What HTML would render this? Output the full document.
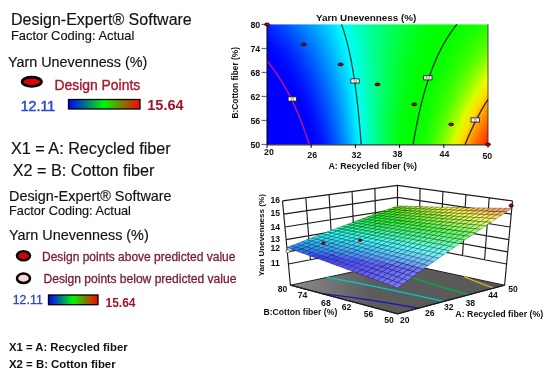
<!DOCTYPE html>
<html><head><meta charset="utf-8"><title>Design-Expert plots</title>
<style>html,body{margin:0;padding:0;background:#fff}svg{display:block}text{font-family:"Liberation Sans", sans-serif}</style></head>
<body><svg width="550" height="375" viewBox="0 0 550 375">
<rect width="550" height="375" fill="#fff"/>
<defs>
<linearGradient id="lg"><stop offset="0" stop-color="#0000ff"/><stop offset="0.5" stop-color="#00f800"/><stop offset="1" stop-color="#ff0000"/></linearGradient>
<linearGradient id="r0"><stop offset="0.000" stop-color="#0028ff"/><stop offset="0.031" stop-color="#0037ff"/><stop offset="0.107" stop-color="#0061ff"/><stop offset="0.183" stop-color="#0091ff"/><stop offset="0.259" stop-color="#00c6ff"/><stop offset="0.335" stop-color="#00ffff"/><stop offset="0.411" stop-color="#00ffc2"/><stop offset="0.487" stop-color="#00ff8b"/><stop offset="0.563" stop-color="#00ff5a"/><stop offset="0.639" stop-color="#00ff31"/><stop offset="0.715" stop-color="#00ff11"/><stop offset="0.791" stop-color="#00ff00"/><stop offset="0.867" stop-color="#04ff00"/><stop offset="0.943" stop-color="#13ff00"/><stop offset="1.000" stop-color="#27ff00"/></linearGradient>
<linearGradient id="r1"><stop offset="0.000" stop-color="#0023ff"/><stop offset="0.040" stop-color="#0037ff"/><stop offset="0.115" stop-color="#0061ff"/><stop offset="0.189" stop-color="#0091ff"/><stop offset="0.264" stop-color="#00c6ff"/><stop offset="0.338" stop-color="#00ffff"/><stop offset="0.413" stop-color="#00ffc2"/><stop offset="0.487" stop-color="#00ff8b"/><stop offset="0.562" stop-color="#00ff5a"/><stop offset="0.636" stop-color="#00ff31"/><stop offset="0.711" stop-color="#00ff11"/><stop offset="0.785" stop-color="#00ff00"/><stop offset="0.860" stop-color="#04ff00"/><stop offset="0.934" stop-color="#13ff00"/><stop offset="1.000" stop-color="#2bff00"/></linearGradient>
<linearGradient id="r2"><stop offset="0.000" stop-color="#001fff"/><stop offset="0.049" stop-color="#0037ff"/><stop offset="0.122" stop-color="#0061ff"/><stop offset="0.195" stop-color="#0091ff"/><stop offset="0.268" stop-color="#00c6ff"/><stop offset="0.341" stop-color="#00ffff"/><stop offset="0.414" stop-color="#00ffc2"/><stop offset="0.488" stop-color="#00ff8b"/><stop offset="0.561" stop-color="#00ff5a"/><stop offset="0.634" stop-color="#00ff31"/><stop offset="0.707" stop-color="#00ff11"/><stop offset="0.780" stop-color="#00ff00"/><stop offset="0.853" stop-color="#04ff00"/><stop offset="0.926" stop-color="#13ff00"/><stop offset="0.999" stop-color="#2fff00"/><stop offset="1.000" stop-color="#2fff00"/></linearGradient>
<linearGradient id="r3"><stop offset="0.000" stop-color="#001bff"/><stop offset="0.058" stop-color="#0037ff"/><stop offset="0.129" stop-color="#0061ff"/><stop offset="0.201" stop-color="#0091ff"/><stop offset="0.273" stop-color="#00c6ff"/><stop offset="0.344" stop-color="#00ffff"/><stop offset="0.416" stop-color="#00ffc2"/><stop offset="0.488" stop-color="#00ff8b"/><stop offset="0.559" stop-color="#00ff5a"/><stop offset="0.631" stop-color="#00ff31"/><stop offset="0.703" stop-color="#00ff11"/><stop offset="0.774" stop-color="#00ff00"/><stop offset="0.846" stop-color="#04ff00"/><stop offset="0.918" stop-color="#13ff00"/><stop offset="0.989" stop-color="#2fff00"/><stop offset="1.000" stop-color="#34ff00"/></linearGradient>
<linearGradient id="r4"><stop offset="0.000" stop-color="#0017ff"/><stop offset="0.066" stop-color="#0037ff"/><stop offset="0.136" stop-color="#0061ff"/><stop offset="0.207" stop-color="#0091ff"/><stop offset="0.277" stop-color="#00c6ff"/><stop offset="0.347" stop-color="#00ffff"/><stop offset="0.418" stop-color="#00ffc2"/><stop offset="0.488" stop-color="#00ff8b"/><stop offset="0.558" stop-color="#00ff5a"/><stop offset="0.629" stop-color="#00ff31"/><stop offset="0.699" stop-color="#00ff11"/><stop offset="0.769" stop-color="#00ff00"/><stop offset="0.840" stop-color="#04ff00"/><stop offset="0.910" stop-color="#13ff00"/><stop offset="0.980" stop-color="#2fff00"/><stop offset="1.000" stop-color="#39ff00"/></linearGradient>
<linearGradient id="r5"><stop offset="0.000" stop-color="#0013ff"/><stop offset="0.005" stop-color="#0015ff"/><stop offset="0.074" stop-color="#0037ff"/><stop offset="0.143" stop-color="#0061ff"/><stop offset="0.212" stop-color="#0091ff"/><stop offset="0.281" stop-color="#00c6ff"/><stop offset="0.350" stop-color="#00ffff"/><stop offset="0.419" stop-color="#00ffc2"/><stop offset="0.488" stop-color="#00ff8b"/><stop offset="0.557" stop-color="#00ff5a"/><stop offset="0.626" stop-color="#00ff31"/><stop offset="0.695" stop-color="#00ff11"/><stop offset="0.764" stop-color="#00ff00"/><stop offset="0.833" stop-color="#04ff00"/><stop offset="0.902" stop-color="#13ff00"/><stop offset="0.972" stop-color="#2fff00"/><stop offset="1.000" stop-color="#3eff00"/></linearGradient>
<linearGradient id="r6"><stop offset="0.000" stop-color="#000fff"/><stop offset="0.014" stop-color="#0015ff"/><stop offset="0.081" stop-color="#0037ff"/><stop offset="0.149" stop-color="#0061ff"/><stop offset="0.217" stop-color="#0091ff"/><stop offset="0.285" stop-color="#00c6ff"/><stop offset="0.353" stop-color="#00ffff"/><stop offset="0.421" stop-color="#00ffc2"/><stop offset="0.488" stop-color="#00ff8b"/><stop offset="0.556" stop-color="#00ff5a"/><stop offset="0.624" stop-color="#00ff31"/><stop offset="0.692" stop-color="#00ff11"/><stop offset="0.760" stop-color="#00ff00"/><stop offset="0.827" stop-color="#04ff00"/><stop offset="0.895" stop-color="#13ff00"/><stop offset="0.963" stop-color="#2fff00"/><stop offset="1.000" stop-color="#44ff00"/></linearGradient>
<linearGradient id="r7"><stop offset="0.000" stop-color="#000cff"/><stop offset="0.022" stop-color="#0015ff"/><stop offset="0.089" stop-color="#0037ff"/><stop offset="0.155" stop-color="#0061ff"/><stop offset="0.222" stop-color="#0091ff"/><stop offset="0.289" stop-color="#00c6ff"/><stop offset="0.355" stop-color="#00ffff"/><stop offset="0.422" stop-color="#00ffc2"/><stop offset="0.489" stop-color="#00ff8b"/><stop offset="0.555" stop-color="#00ff5a"/><stop offset="0.622" stop-color="#00ff31"/><stop offset="0.688" stop-color="#00ff11"/><stop offset="0.755" stop-color="#00ff00"/><stop offset="0.822" stop-color="#04ff00"/><stop offset="0.888" stop-color="#13ff00"/><stop offset="0.955" stop-color="#2fff00"/><stop offset="1.000" stop-color="#49ff00"/></linearGradient>
<linearGradient id="r8"><stop offset="0.000" stop-color="#0009ff"/><stop offset="0.030" stop-color="#0015ff"/><stop offset="0.096" stop-color="#0037ff"/><stop offset="0.161" stop-color="#0061ff"/><stop offset="0.227" stop-color="#0091ff"/><stop offset="0.292" stop-color="#00c6ff"/><stop offset="0.358" stop-color="#00ffff"/><stop offset="0.423" stop-color="#00ffc2"/><stop offset="0.489" stop-color="#00ff8b"/><stop offset="0.554" stop-color="#00ff5a"/><stop offset="0.620" stop-color="#00ff31"/><stop offset="0.685" stop-color="#00ff11"/><stop offset="0.751" stop-color="#00ff00"/><stop offset="0.816" stop-color="#04ff00"/><stop offset="0.882" stop-color="#13ff00"/><stop offset="0.947" stop-color="#2fff00"/><stop offset="1.000" stop-color="#4fff00"/></linearGradient>
<linearGradient id="r9"><stop offset="0.000" stop-color="#0006ff"/><stop offset="0.038" stop-color="#0015ff"/><stop offset="0.103" stop-color="#0037ff"/><stop offset="0.167" stop-color="#0061ff"/><stop offset="0.231" stop-color="#0091ff"/><stop offset="0.296" stop-color="#00c6ff"/><stop offset="0.360" stop-color="#00ffff"/><stop offset="0.425" stop-color="#00ffc2"/><stop offset="0.489" stop-color="#00ff8b"/><stop offset="0.553" stop-color="#00ff5a"/><stop offset="0.618" stop-color="#00ff31"/><stop offset="0.682" stop-color="#00ff11"/><stop offset="0.746" stop-color="#00ff00"/><stop offset="0.811" stop-color="#04ff00"/><stop offset="0.875" stop-color="#13ff00"/><stop offset="0.939" stop-color="#2fff00"/><stop offset="1.000" stop-color="#55ff00"/></linearGradient>
<linearGradient id="r10"><stop offset="0.000" stop-color="#0003ff"/><stop offset="0.046" stop-color="#0015ff"/><stop offset="0.109" stop-color="#0037ff"/><stop offset="0.173" stop-color="#0061ff"/><stop offset="0.236" stop-color="#0091ff"/><stop offset="0.299" stop-color="#00c6ff"/><stop offset="0.362" stop-color="#00ffff"/><stop offset="0.426" stop-color="#00ffc2"/><stop offset="0.489" stop-color="#00ff8b"/><stop offset="0.552" stop-color="#00ff5a"/><stop offset="0.616" stop-color="#00ff31"/><stop offset="0.679" stop-color="#00ff11"/><stop offset="0.742" stop-color="#00ff00"/><stop offset="0.805" stop-color="#04ff00"/><stop offset="0.869" stop-color="#13ff00"/><stop offset="0.932" stop-color="#2fff00"/><stop offset="0.995" stop-color="#58ff00"/><stop offset="1.000" stop-color="#5cff00"/></linearGradient>
<linearGradient id="r11"><stop offset="0.000" stop-color="#0001ff"/><stop offset="0.054" stop-color="#0015ff"/><stop offset="0.116" stop-color="#0037ff"/><stop offset="0.178" stop-color="#0061ff"/><stop offset="0.240" stop-color="#0091ff"/><stop offset="0.302" stop-color="#00c6ff"/><stop offset="0.365" stop-color="#00ffff"/><stop offset="0.427" stop-color="#00ffc2"/><stop offset="0.489" stop-color="#00ff8b"/><stop offset="0.551" stop-color="#00ff5a"/><stop offset="0.614" stop-color="#00ff31"/><stop offset="0.676" stop-color="#00ff11"/><stop offset="0.738" stop-color="#00ff00"/><stop offset="0.800" stop-color="#04ff00"/><stop offset="0.863" stop-color="#13ff00"/><stop offset="0.925" stop-color="#2fff00"/><stop offset="0.987" stop-color="#58ff00"/><stop offset="1.000" stop-color="#63ff00"/></linearGradient>
<linearGradient id="r12"><stop offset="0.000" stop-color="#0000ff"/><stop offset="0.061" stop-color="#0015ff"/><stop offset="0.122" stop-color="#0037ff"/><stop offset="0.183" stop-color="#0061ff"/><stop offset="0.244" stop-color="#0091ff"/><stop offset="0.306" stop-color="#00c6ff"/><stop offset="0.367" stop-color="#00ffff"/><stop offset="0.428" stop-color="#00ffc2"/><stop offset="0.489" stop-color="#00ff8b"/><stop offset="0.551" stop-color="#00ff5a"/><stop offset="0.612" stop-color="#00ff31"/><stop offset="0.673" stop-color="#00ff11"/><stop offset="0.734" stop-color="#00ff00"/><stop offset="0.795" stop-color="#04ff00"/><stop offset="0.857" stop-color="#13ff00"/><stop offset="0.918" stop-color="#2fff00"/><stop offset="0.979" stop-color="#58ff00"/><stop offset="1.000" stop-color="#6aff00"/></linearGradient>
<linearGradient id="r13"><stop offset="0.000" stop-color="#0000ff"/><stop offset="0.008" stop-color="#0000ff"/><stop offset="0.068" stop-color="#0015ff"/><stop offset="0.128" stop-color="#0037ff"/><stop offset="0.188" stop-color="#0061ff"/><stop offset="0.249" stop-color="#0091ff"/><stop offset="0.309" stop-color="#00c6ff"/><stop offset="0.369" stop-color="#00ffff"/><stop offset="0.429" stop-color="#00ffc2"/><stop offset="0.490" stop-color="#00ff8b"/><stop offset="0.550" stop-color="#00ff5a"/><stop offset="0.610" stop-color="#00ff31"/><stop offset="0.670" stop-color="#00ff11"/><stop offset="0.731" stop-color="#00ff00"/><stop offset="0.791" stop-color="#04ff00"/><stop offset="0.851" stop-color="#13ff00"/><stop offset="0.911" stop-color="#2fff00"/><stop offset="0.972" stop-color="#58ff00"/><stop offset="1.000" stop-color="#71ff00"/></linearGradient>
<linearGradient id="r14"><stop offset="0.000" stop-color="#0000ff"/><stop offset="0.015" stop-color="#0000ff"/><stop offset="0.075" stop-color="#0015ff"/><stop offset="0.134" stop-color="#0037ff"/><stop offset="0.193" stop-color="#0061ff"/><stop offset="0.252" stop-color="#0091ff"/><stop offset="0.312" stop-color="#00c6ff"/><stop offset="0.371" stop-color="#00ffff"/><stop offset="0.430" stop-color="#00ffc2"/><stop offset="0.490" stop-color="#00ff8b"/><stop offset="0.549" stop-color="#00ff5a"/><stop offset="0.608" stop-color="#00ff31"/><stop offset="0.668" stop-color="#00ff11"/><stop offset="0.727" stop-color="#00ff00"/><stop offset="0.786" stop-color="#04ff00"/><stop offset="0.845" stop-color="#13ff00"/><stop offset="0.905" stop-color="#2fff00"/><stop offset="0.964" stop-color="#58ff00"/><stop offset="1.000" stop-color="#78ff00"/></linearGradient>
<linearGradient id="r15"><stop offset="0.000" stop-color="#0000ff"/><stop offset="0.023" stop-color="#0000ff"/><stop offset="0.081" stop-color="#0015ff"/><stop offset="0.139" stop-color="#0037ff"/><stop offset="0.198" stop-color="#0061ff"/><stop offset="0.256" stop-color="#0091ff"/><stop offset="0.315" stop-color="#00c6ff"/><stop offset="0.373" stop-color="#00ffff"/><stop offset="0.431" stop-color="#00ffc2"/><stop offset="0.490" stop-color="#00ff8b"/><stop offset="0.548" stop-color="#00ff5a"/><stop offset="0.607" stop-color="#00ff31"/><stop offset="0.665" stop-color="#00ff11"/><stop offset="0.723" stop-color="#00ff00"/><stop offset="0.782" stop-color="#04ff00"/><stop offset="0.840" stop-color="#13ff00"/><stop offset="0.899" stop-color="#2fff00"/><stop offset="0.957" stop-color="#58ff00"/><stop offset="1.000" stop-color="#80ff00"/></linearGradient>
<linearGradient id="r16"><stop offset="0.000" stop-color="#0000ff"/><stop offset="0.030" stop-color="#0000ff"/><stop offset="0.087" stop-color="#0015ff"/><stop offset="0.145" stop-color="#0037ff"/><stop offset="0.202" stop-color="#0061ff"/><stop offset="0.260" stop-color="#0091ff"/><stop offset="0.317" stop-color="#00c6ff"/><stop offset="0.375" stop-color="#00ffff"/><stop offset="0.432" stop-color="#00ffc2"/><stop offset="0.490" stop-color="#00ff8b"/><stop offset="0.547" stop-color="#00ff5a"/><stop offset="0.605" stop-color="#00ff31"/><stop offset="0.662" stop-color="#00ff11"/><stop offset="0.720" stop-color="#00ff00"/><stop offset="0.777" stop-color="#04ff00"/><stop offset="0.835" stop-color="#13ff00"/><stop offset="0.892" stop-color="#2fff00"/><stop offset="0.950" stop-color="#58ff00"/><stop offset="1.000" stop-color="#88ff00"/></linearGradient>
<linearGradient id="r17"><stop offset="0.000" stop-color="#0000ff"/><stop offset="0.037" stop-color="#0000ff"/><stop offset="0.094" stop-color="#0015ff"/><stop offset="0.150" stop-color="#0037ff"/><stop offset="0.207" stop-color="#0061ff"/><stop offset="0.264" stop-color="#0091ff"/><stop offset="0.320" stop-color="#00c6ff"/><stop offset="0.377" stop-color="#00ffff"/><stop offset="0.433" stop-color="#00ffc2"/><stop offset="0.490" stop-color="#00ff8b"/><stop offset="0.547" stop-color="#00ff5a"/><stop offset="0.603" stop-color="#00ff31"/><stop offset="0.660" stop-color="#00ff11"/><stop offset="0.717" stop-color="#00ff00"/><stop offset="0.773" stop-color="#04ff00"/><stop offset="0.830" stop-color="#13ff00"/><stop offset="0.887" stop-color="#2fff00"/><stop offset="0.943" stop-color="#58ff00"/><stop offset="1.000" stop-color="#90ff00"/><stop offset="1.000" stop-color="#90ff00"/></linearGradient>
<linearGradient id="r18"><stop offset="0.000" stop-color="#0000ff"/><stop offset="0.044" stop-color="#0000ff"/><stop offset="0.100" stop-color="#0015ff"/><stop offset="0.155" stop-color="#0037ff"/><stop offset="0.211" stop-color="#0061ff"/><stop offset="0.267" stop-color="#0091ff"/><stop offset="0.323" stop-color="#00c6ff"/><stop offset="0.379" stop-color="#00ffff"/><stop offset="0.434" stop-color="#00ffc2"/><stop offset="0.490" stop-color="#00ff8b"/><stop offset="0.546" stop-color="#00ff5a"/><stop offset="0.602" stop-color="#00ff31"/><stop offset="0.658" stop-color="#00ff11"/><stop offset="0.713" stop-color="#00ff00"/><stop offset="0.769" stop-color="#04ff00"/><stop offset="0.825" stop-color="#13ff00"/><stop offset="0.881" stop-color="#2fff00"/><stop offset="0.937" stop-color="#58ff00"/><stop offset="0.992" stop-color="#90ff00"/><stop offset="1.000" stop-color="#99ff00"/></linearGradient>
<linearGradient id="r19"><stop offset="0.000" stop-color="#0000ff"/><stop offset="0.050" stop-color="#0000ff"/><stop offset="0.105" stop-color="#0015ff"/><stop offset="0.160" stop-color="#0037ff"/><stop offset="0.215" stop-color="#0061ff"/><stop offset="0.270" stop-color="#0091ff"/><stop offset="0.325" stop-color="#00c6ff"/><stop offset="0.380" stop-color="#00ffff"/><stop offset="0.435" stop-color="#00ffc2"/><stop offset="0.490" stop-color="#00ff8b"/><stop offset="0.545" stop-color="#00ff5a"/><stop offset="0.600" stop-color="#00ff31"/><stop offset="0.655" stop-color="#00ff11"/><stop offset="0.710" stop-color="#00ff00"/><stop offset="0.765" stop-color="#04ff00"/><stop offset="0.820" stop-color="#13ff00"/><stop offset="0.875" stop-color="#2fff00"/><stop offset="0.930" stop-color="#58ff00"/><stop offset="0.985" stop-color="#90ff00"/><stop offset="1.000" stop-color="#a2ff00"/></linearGradient>
<linearGradient id="r20"><stop offset="0.000" stop-color="#0000ff"/><stop offset="0.057" stop-color="#0000ff"/><stop offset="0.111" stop-color="#0015ff"/><stop offset="0.165" stop-color="#0037ff"/><stop offset="0.219" stop-color="#0061ff"/><stop offset="0.274" stop-color="#0091ff"/><stop offset="0.328" stop-color="#00c6ff"/><stop offset="0.382" stop-color="#00ffff"/><stop offset="0.436" stop-color="#00ffc2"/><stop offset="0.490" stop-color="#00ff8b"/><stop offset="0.545" stop-color="#00ff5a"/><stop offset="0.599" stop-color="#00ff31"/><stop offset="0.653" stop-color="#00ff11"/><stop offset="0.707" stop-color="#00ff00"/><stop offset="0.761" stop-color="#04ff00"/><stop offset="0.816" stop-color="#13ff00"/><stop offset="0.870" stop-color="#2fff00"/><stop offset="0.924" stop-color="#58ff00"/><stop offset="0.978" stop-color="#90ff00"/><stop offset="1.000" stop-color="#abff00"/></linearGradient>
<linearGradient id="r21"><stop offset="0.000" stop-color="#0000ff"/><stop offset="0.063" stop-color="#0000ff"/><stop offset="0.117" stop-color="#0015ff"/><stop offset="0.170" stop-color="#0037ff"/><stop offset="0.223" stop-color="#0061ff"/><stop offset="0.277" stop-color="#0091ff"/><stop offset="0.330" stop-color="#00c6ff"/><stop offset="0.384" stop-color="#00ffff"/><stop offset="0.437" stop-color="#00ffc2"/><stop offset="0.491" stop-color="#00ff8b"/><stop offset="0.544" stop-color="#00ff5a"/><stop offset="0.597" stop-color="#00ff31"/><stop offset="0.651" stop-color="#00ff11"/><stop offset="0.704" stop-color="#00ff00"/><stop offset="0.758" stop-color="#04ff00"/><stop offset="0.811" stop-color="#13ff00"/><stop offset="0.865" stop-color="#2fff00"/><stop offset="0.918" stop-color="#58ff00"/><stop offset="0.971" stop-color="#90ff00"/><stop offset="1.000" stop-color="#b4ff00"/></linearGradient>
<linearGradient id="r22"><stop offset="0.000" stop-color="#0000ff"/><stop offset="0.069" stop-color="#0000ff"/><stop offset="0.122" stop-color="#0015ff"/><stop offset="0.175" stop-color="#0037ff"/><stop offset="0.227" stop-color="#0061ff"/><stop offset="0.280" stop-color="#0091ff"/><stop offset="0.333" stop-color="#00c6ff"/><stop offset="0.385" stop-color="#00ffff"/><stop offset="0.438" stop-color="#00ffc2"/><stop offset="0.491" stop-color="#00ff8b"/><stop offset="0.543" stop-color="#00ff5a"/><stop offset="0.596" stop-color="#00ff31"/><stop offset="0.649" stop-color="#00ff11"/><stop offset="0.701" stop-color="#00ff00"/><stop offset="0.754" stop-color="#04ff00"/><stop offset="0.807" stop-color="#13ff00"/><stop offset="0.860" stop-color="#2fff00"/><stop offset="0.912" stop-color="#58ff00"/><stop offset="0.965" stop-color="#90ff00"/><stop offset="1.000" stop-color="#beff00"/></linearGradient>
<linearGradient id="r23"><stop offset="0.000" stop-color="#0000ff"/><stop offset="0.075" stop-color="#0000ff"/><stop offset="0.127" stop-color="#0015ff"/><stop offset="0.179" stop-color="#0037ff"/><stop offset="0.231" stop-color="#0061ff"/><stop offset="0.283" stop-color="#0091ff"/><stop offset="0.335" stop-color="#00c6ff"/><stop offset="0.387" stop-color="#00ffff"/><stop offset="0.439" stop-color="#00ffc2"/><stop offset="0.491" stop-color="#00ff8b"/><stop offset="0.543" stop-color="#00ff5a"/><stop offset="0.595" stop-color="#00ff31"/><stop offset="0.647" stop-color="#00ff11"/><stop offset="0.699" stop-color="#00ff00"/><stop offset="0.751" stop-color="#04ff00"/><stop offset="0.803" stop-color="#13ff00"/><stop offset="0.855" stop-color="#2fff00"/><stop offset="0.907" stop-color="#58ff00"/><stop offset="0.958" stop-color="#90ff00"/><stop offset="1.000" stop-color="#c8ff00"/></linearGradient>
<linearGradient id="r24"><stop offset="0.000" stop-color="#0000ff"/><stop offset="0.081" stop-color="#0000ff"/><stop offset="0.132" stop-color="#0015ff"/><stop offset="0.183" stop-color="#0037ff"/><stop offset="0.235" stop-color="#0061ff"/><stop offset="0.286" stop-color="#0091ff"/><stop offset="0.337" stop-color="#00c6ff"/><stop offset="0.388" stop-color="#00ffff"/><stop offset="0.440" stop-color="#00ffc2"/><stop offset="0.491" stop-color="#00ff8b"/><stop offset="0.542" stop-color="#00ff5a"/><stop offset="0.593" stop-color="#00ff31"/><stop offset="0.645" stop-color="#00ff11"/><stop offset="0.696" stop-color="#00ff00"/><stop offset="0.747" stop-color="#04ff00"/><stop offset="0.798" stop-color="#13ff00"/><stop offset="0.850" stop-color="#2fff00"/><stop offset="0.901" stop-color="#58ff00"/><stop offset="0.952" stop-color="#90ff00"/><stop offset="1.000" stop-color="#d2ff00"/></linearGradient>
<linearGradient id="r25"><stop offset="0.000" stop-color="#0000ff"/><stop offset="0.086" stop-color="#0000ff"/><stop offset="0.137" stop-color="#0015ff"/><stop offset="0.188" stop-color="#0037ff"/><stop offset="0.238" stop-color="#0061ff"/><stop offset="0.289" stop-color="#0091ff"/><stop offset="0.339" stop-color="#00c6ff"/><stop offset="0.390" stop-color="#00ffff"/><stop offset="0.440" stop-color="#00ffc2"/><stop offset="0.491" stop-color="#00ff8b"/><stop offset="0.542" stop-color="#00ff5a"/><stop offset="0.592" stop-color="#00ff31"/><stop offset="0.643" stop-color="#00ff11"/><stop offset="0.693" stop-color="#00ff00"/><stop offset="0.744" stop-color="#04ff00"/><stop offset="0.794" stop-color="#13ff00"/><stop offset="0.845" stop-color="#2fff00"/><stop offset="0.896" stop-color="#58ff00"/><stop offset="0.946" stop-color="#90ff00"/><stop offset="0.997" stop-color="#d7ff00"/><stop offset="1.000" stop-color="#dcff00"/></linearGradient>
<linearGradient id="r26"><stop offset="0.000" stop-color="#0000ff"/><stop offset="0.092" stop-color="#0000ff"/><stop offset="0.142" stop-color="#0015ff"/><stop offset="0.192" stop-color="#0037ff"/><stop offset="0.242" stop-color="#0061ff"/><stop offset="0.291" stop-color="#0091ff"/><stop offset="0.341" stop-color="#00c6ff"/><stop offset="0.391" stop-color="#00ffff"/><stop offset="0.441" stop-color="#00ffc2"/><stop offset="0.491" stop-color="#00ff8b"/><stop offset="0.541" stop-color="#00ff5a"/><stop offset="0.591" stop-color="#00ff31"/><stop offset="0.641" stop-color="#00ff11"/><stop offset="0.691" stop-color="#00ff00"/><stop offset="0.741" stop-color="#04ff00"/><stop offset="0.791" stop-color="#13ff00"/><stop offset="0.840" stop-color="#2fff00"/><stop offset="0.890" stop-color="#58ff00"/><stop offset="0.940" stop-color="#90ff00"/><stop offset="0.990" stop-color="#d7ff00"/><stop offset="1.000" stop-color="#e7ff00"/></linearGradient>
<linearGradient id="r27"><stop offset="0.000" stop-color="#0000ff"/><stop offset="0.097" stop-color="#0000ff"/><stop offset="0.146" stop-color="#0015ff"/><stop offset="0.196" stop-color="#0037ff"/><stop offset="0.245" stop-color="#0061ff"/><stop offset="0.294" stop-color="#0091ff"/><stop offset="0.343" stop-color="#00c6ff"/><stop offset="0.393" stop-color="#00ffff"/><stop offset="0.442" stop-color="#00ffc2"/><stop offset="0.491" stop-color="#00ff8b"/><stop offset="0.540" stop-color="#00ff5a"/><stop offset="0.590" stop-color="#00ff31"/><stop offset="0.639" stop-color="#00ff11"/><stop offset="0.688" stop-color="#00ff00"/><stop offset="0.737" stop-color="#04ff00"/><stop offset="0.787" stop-color="#13ff00"/><stop offset="0.836" stop-color="#2fff00"/><stop offset="0.885" stop-color="#58ff00"/><stop offset="0.935" stop-color="#90ff00"/><stop offset="0.984" stop-color="#d7ff00"/><stop offset="1.000" stop-color="#f2ff00"/></linearGradient>
<linearGradient id="r28"><stop offset="0.000" stop-color="#0000ff"/><stop offset="0.102" stop-color="#0000ff"/><stop offset="0.151" stop-color="#0015ff"/><stop offset="0.200" stop-color="#0037ff"/><stop offset="0.248" stop-color="#0061ff"/><stop offset="0.297" stop-color="#0091ff"/><stop offset="0.345" stop-color="#00c6ff"/><stop offset="0.394" stop-color="#00ffff"/><stop offset="0.443" stop-color="#00ffc2"/><stop offset="0.491" stop-color="#00ff8b"/><stop offset="0.540" stop-color="#00ff5a"/><stop offset="0.589" stop-color="#00ff31"/><stop offset="0.637" stop-color="#00ff11"/><stop offset="0.686" stop-color="#00ff00"/><stop offset="0.734" stop-color="#04ff00"/><stop offset="0.783" stop-color="#13ff00"/><stop offset="0.832" stop-color="#2fff00"/><stop offset="0.880" stop-color="#58ff00"/><stop offset="0.929" stop-color="#90ff00"/><stop offset="0.978" stop-color="#d7ff00"/><stop offset="1.000" stop-color="#fdff00"/></linearGradient>
<linearGradient id="r29"><stop offset="0.000" stop-color="#0000ff"/><stop offset="0.107" stop-color="#0000ff"/><stop offset="0.155" stop-color="#0015ff"/><stop offset="0.203" stop-color="#0037ff"/><stop offset="0.251" stop-color="#0061ff"/><stop offset="0.299" stop-color="#0091ff"/><stop offset="0.347" stop-color="#00c6ff"/><stop offset="0.395" stop-color="#00ffff"/><stop offset="0.443" stop-color="#00ffc2"/><stop offset="0.491" stop-color="#00ff8b"/><stop offset="0.539" stop-color="#00ff5a"/><stop offset="0.587" stop-color="#00ff31"/><stop offset="0.635" stop-color="#00ff11"/><stop offset="0.683" stop-color="#00ff00"/><stop offset="0.731" stop-color="#04ff00"/><stop offset="0.779" stop-color="#13ff00"/><stop offset="0.827" stop-color="#2fff00"/><stop offset="0.875" stop-color="#58ff00"/><stop offset="0.923" stop-color="#90ff00"/><stop offset="0.971" stop-color="#d7ff00"/><stop offset="1.000" stop-color="#fff800"/></linearGradient>
<linearGradient id="r30"><stop offset="0.000" stop-color="#0000ff"/><stop offset="0.112" stop-color="#0000ff"/><stop offset="0.160" stop-color="#0015ff"/><stop offset="0.207" stop-color="#0037ff"/><stop offset="0.254" stop-color="#0061ff"/><stop offset="0.302" stop-color="#0091ff"/><stop offset="0.349" stop-color="#00c6ff"/><stop offset="0.397" stop-color="#00ffff"/><stop offset="0.444" stop-color="#00ffc2"/><stop offset="0.492" stop-color="#00ff8b"/><stop offset="0.539" stop-color="#00ff5a"/><stop offset="0.586" stop-color="#00ff31"/><stop offset="0.634" stop-color="#00ff11"/><stop offset="0.681" stop-color="#00ff00"/><stop offset="0.729" stop-color="#04ff00"/><stop offset="0.776" stop-color="#13ff00"/><stop offset="0.823" stop-color="#2fff00"/><stop offset="0.871" stop-color="#58ff00"/><stop offset="0.918" stop-color="#90ff00"/><stop offset="0.966" stop-color="#d7ff00"/><stop offset="1.000" stop-color="#ffef00"/></linearGradient>
<linearGradient id="r31"><stop offset="0.000" stop-color="#0000ff"/><stop offset="0.117" stop-color="#0000ff"/><stop offset="0.164" stop-color="#0015ff"/><stop offset="0.211" stop-color="#0037ff"/><stop offset="0.258" stop-color="#0061ff"/><stop offset="0.304" stop-color="#0091ff"/><stop offset="0.351" stop-color="#00c6ff"/><stop offset="0.398" stop-color="#00ffff"/><stop offset="0.445" stop-color="#00ffc2"/><stop offset="0.492" stop-color="#00ff8b"/><stop offset="0.538" stop-color="#00ff5a"/><stop offset="0.585" stop-color="#00ff31"/><stop offset="0.632" stop-color="#00ff11"/><stop offset="0.679" stop-color="#00ff00"/><stop offset="0.726" stop-color="#04ff00"/><stop offset="0.772" stop-color="#13ff00"/><stop offset="0.819" stop-color="#2fff00"/><stop offset="0.866" stop-color="#58ff00"/><stop offset="0.913" stop-color="#90ff00"/><stop offset="0.960" stop-color="#d7ff00"/><stop offset="1.000" stop-color="#ffe700"/></linearGradient>
<linearGradient id="r32"><stop offset="0.000" stop-color="#0000ff"/><stop offset="0.122" stop-color="#0000ff"/><stop offset="0.168" stop-color="#0015ff"/><stop offset="0.214" stop-color="#0037ff"/><stop offset="0.260" stop-color="#0061ff"/><stop offset="0.307" stop-color="#0091ff"/><stop offset="0.353" stop-color="#00c6ff"/><stop offset="0.399" stop-color="#00ffff"/><stop offset="0.445" stop-color="#00ffc2"/><stop offset="0.492" stop-color="#00ff8b"/><stop offset="0.538" stop-color="#00ff5a"/><stop offset="0.584" stop-color="#00ff31"/><stop offset="0.630" stop-color="#00ff11"/><stop offset="0.677" stop-color="#00ff00"/><stop offset="0.723" stop-color="#04ff00"/><stop offset="0.769" stop-color="#13ff00"/><stop offset="0.815" stop-color="#2fff00"/><stop offset="0.862" stop-color="#58ff00"/><stop offset="0.908" stop-color="#90ff00"/><stop offset="0.954" stop-color="#d7ff00"/><stop offset="1.000" stop-color="#ffde00"/></linearGradient>
<linearGradient id="r33"><stop offset="0.000" stop-color="#0000ff"/><stop offset="0.126" stop-color="#0000ff"/><stop offset="0.172" stop-color="#0015ff"/><stop offset="0.218" stop-color="#0037ff"/><stop offset="0.263" stop-color="#0061ff"/><stop offset="0.309" stop-color="#0091ff"/><stop offset="0.355" stop-color="#00c6ff"/><stop offset="0.400" stop-color="#00ffff"/><stop offset="0.446" stop-color="#00ffc2"/><stop offset="0.492" stop-color="#00ff8b"/><stop offset="0.537" stop-color="#00ff5a"/><stop offset="0.583" stop-color="#00ff31"/><stop offset="0.629" stop-color="#00ff11"/><stop offset="0.675" stop-color="#00ff00"/><stop offset="0.720" stop-color="#04ff00"/><stop offset="0.766" stop-color="#13ff00"/><stop offset="0.812" stop-color="#2fff00"/><stop offset="0.857" stop-color="#58ff00"/><stop offset="0.903" stop-color="#90ff00"/><stop offset="0.949" stop-color="#d7ff00"/><stop offset="0.994" stop-color="#ffde00"/><stop offset="1.000" stop-color="#ffd600"/></linearGradient>
<linearGradient id="r34"><stop offset="0.000" stop-color="#0000ff"/><stop offset="0.131" stop-color="#0000ff"/><stop offset="0.176" stop-color="#0015ff"/><stop offset="0.221" stop-color="#0037ff"/><stop offset="0.266" stop-color="#0061ff"/><stop offset="0.311" stop-color="#0091ff"/><stop offset="0.356" stop-color="#00c6ff"/><stop offset="0.402" stop-color="#00ffff"/><stop offset="0.447" stop-color="#00ffc2"/><stop offset="0.492" stop-color="#00ff8b"/><stop offset="0.537" stop-color="#00ff5a"/><stop offset="0.582" stop-color="#00ff31"/><stop offset="0.627" stop-color="#00ff11"/><stop offset="0.672" stop-color="#00ff00"/><stop offset="0.718" stop-color="#04ff00"/><stop offset="0.763" stop-color="#13ff00"/><stop offset="0.808" stop-color="#2fff00"/><stop offset="0.853" stop-color="#58ff00"/><stop offset="0.898" stop-color="#90ff00"/><stop offset="0.943" stop-color="#d7ff00"/><stop offset="0.988" stop-color="#ffde00"/><stop offset="1.000" stop-color="#ffce00"/></linearGradient>
<linearGradient id="r35"><stop offset="0.000" stop-color="#0000ff"/><stop offset="0.135" stop-color="#0000ff"/><stop offset="0.180" stop-color="#0015ff"/><stop offset="0.224" stop-color="#0037ff"/><stop offset="0.269" stop-color="#0061ff"/><stop offset="0.314" stop-color="#0091ff"/><stop offset="0.358" stop-color="#00c6ff"/><stop offset="0.403" stop-color="#00ffff"/><stop offset="0.447" stop-color="#00ffc2"/><stop offset="0.492" stop-color="#00ff8b"/><stop offset="0.537" stop-color="#00ff5a"/><stop offset="0.581" stop-color="#00ff31"/><stop offset="0.626" stop-color="#00ff11"/><stop offset="0.670" stop-color="#00ff00"/><stop offset="0.715" stop-color="#04ff00"/><stop offset="0.760" stop-color="#13ff00"/><stop offset="0.804" stop-color="#2fff00"/><stop offset="0.849" stop-color="#58ff00"/><stop offset="0.893" stop-color="#90ff00"/><stop offset="0.938" stop-color="#d7ff00"/><stop offset="0.983" stop-color="#ffde00"/><stop offset="1.000" stop-color="#ffc600"/></linearGradient>
<linearGradient id="r36"><stop offset="0.000" stop-color="#0000ff"/><stop offset="0.139" stop-color="#0000ff"/><stop offset="0.183" stop-color="#0015ff"/><stop offset="0.228" stop-color="#0037ff"/><stop offset="0.272" stop-color="#0061ff"/><stop offset="0.316" stop-color="#0091ff"/><stop offset="0.360" stop-color="#00c6ff"/><stop offset="0.404" stop-color="#00ffff"/><stop offset="0.448" stop-color="#00ffc2"/><stop offset="0.492" stop-color="#00ff8b"/><stop offset="0.536" stop-color="#00ff5a"/><stop offset="0.580" stop-color="#00ff31"/><stop offset="0.624" stop-color="#00ff11"/><stop offset="0.668" stop-color="#00ff00"/><stop offset="0.712" stop-color="#04ff00"/><stop offset="0.757" stop-color="#13ff00"/><stop offset="0.801" stop-color="#2fff00"/><stop offset="0.845" stop-color="#58ff00"/><stop offset="0.889" stop-color="#90ff00"/><stop offset="0.933" stop-color="#d7ff00"/><stop offset="0.977" stop-color="#ffde00"/><stop offset="1.000" stop-color="#ffbe00"/></linearGradient>
<linearGradient id="r37"><stop offset="0.000" stop-color="#0000ff"/><stop offset="0.143" stop-color="#0000ff"/><stop offset="0.187" stop-color="#0015ff"/><stop offset="0.231" stop-color="#0037ff"/><stop offset="0.274" stop-color="#0061ff"/><stop offset="0.318" stop-color="#0091ff"/><stop offset="0.361" stop-color="#00c6ff"/><stop offset="0.405" stop-color="#00ffff"/><stop offset="0.449" stop-color="#00ffc2"/><stop offset="0.492" stop-color="#00ff8b"/><stop offset="0.536" stop-color="#00ff5a"/><stop offset="0.579" stop-color="#00ff31"/><stop offset="0.623" stop-color="#00ff11"/><stop offset="0.666" stop-color="#00ff00"/><stop offset="0.710" stop-color="#04ff00"/><stop offset="0.754" stop-color="#13ff00"/><stop offset="0.797" stop-color="#2fff00"/><stop offset="0.841" stop-color="#58ff00"/><stop offset="0.884" stop-color="#90ff00"/><stop offset="0.928" stop-color="#d7ff00"/><stop offset="0.971" stop-color="#ffde00"/><stop offset="1.000" stop-color="#ffb600"/></linearGradient>
<linearGradient id="r38"><stop offset="0.000" stop-color="#0000ff"/><stop offset="0.148" stop-color="#0000ff"/><stop offset="0.191" stop-color="#0015ff"/><stop offset="0.234" stop-color="#0037ff"/><stop offset="0.277" stop-color="#0061ff"/><stop offset="0.320" stop-color="#0091ff"/><stop offset="0.363" stop-color="#00c6ff"/><stop offset="0.406" stop-color="#00ffff"/><stop offset="0.449" stop-color="#00ffc2"/><stop offset="0.492" stop-color="#00ff8b"/><stop offset="0.535" stop-color="#00ff5a"/><stop offset="0.578" stop-color="#00ff31"/><stop offset="0.621" stop-color="#00ff11"/><stop offset="0.664" stop-color="#00ff00"/><stop offset="0.708" stop-color="#04ff00"/><stop offset="0.751" stop-color="#13ff00"/><stop offset="0.794" stop-color="#2fff00"/><stop offset="0.837" stop-color="#58ff00"/><stop offset="0.880" stop-color="#90ff00"/><stop offset="0.923" stop-color="#d7ff00"/><stop offset="0.966" stop-color="#ffde00"/><stop offset="1.000" stop-color="#ffaf00"/></linearGradient>
<linearGradient id="r39"><stop offset="0.000" stop-color="#0000ff"/><stop offset="0.152" stop-color="#0000ff"/><stop offset="0.194" stop-color="#0015ff"/><stop offset="0.237" stop-color="#0037ff"/><stop offset="0.279" stop-color="#0061ff"/><stop offset="0.322" stop-color="#0091ff"/><stop offset="0.364" stop-color="#00c6ff"/><stop offset="0.407" stop-color="#00ffff"/><stop offset="0.450" stop-color="#00ffc2"/><stop offset="0.492" stop-color="#00ff8b"/><stop offset="0.535" stop-color="#00ff5a"/><stop offset="0.577" stop-color="#00ff31"/><stop offset="0.620" stop-color="#00ff11"/><stop offset="0.663" stop-color="#00ff00"/><stop offset="0.705" stop-color="#04ff00"/><stop offset="0.748" stop-color="#13ff00"/><stop offset="0.790" stop-color="#2fff00"/><stop offset="0.833" stop-color="#58ff00"/><stop offset="0.876" stop-color="#90ff00"/><stop offset="0.918" stop-color="#d7ff00"/><stop offset="0.961" stop-color="#ffde00"/><stop offset="1.000" stop-color="#ffa700"/></linearGradient>
<linearGradient id="r40"><stop offset="0.000" stop-color="#0000ff"/><stop offset="0.155" stop-color="#0000ff"/><stop offset="0.197" stop-color="#0015ff"/><stop offset="0.240" stop-color="#0037ff"/><stop offset="0.282" stop-color="#0061ff"/><stop offset="0.324" stop-color="#0091ff"/><stop offset="0.366" stop-color="#00c6ff"/><stop offset="0.408" stop-color="#00ffff"/><stop offset="0.450" stop-color="#00ffc2"/><stop offset="0.492" stop-color="#00ff8b"/><stop offset="0.534" stop-color="#00ff5a"/><stop offset="0.577" stop-color="#00ff31"/><stop offset="0.619" stop-color="#00ff11"/><stop offset="0.661" stop-color="#00ff00"/><stop offset="0.703" stop-color="#04ff00"/><stop offset="0.745" stop-color="#13ff00"/><stop offset="0.787" stop-color="#2fff00"/><stop offset="0.829" stop-color="#58ff00"/><stop offset="0.871" stop-color="#90ff00"/><stop offset="0.914" stop-color="#d7ff00"/><stop offset="0.956" stop-color="#ffde00"/><stop offset="0.998" stop-color="#ffa200"/><stop offset="1.000" stop-color="#ff9f00"/></linearGradient>
<linearGradient id="r41"><stop offset="0.000" stop-color="#0000ff"/><stop offset="0.159" stop-color="#0000ff"/><stop offset="0.201" stop-color="#0015ff"/><stop offset="0.242" stop-color="#0037ff"/><stop offset="0.284" stop-color="#0061ff"/><stop offset="0.326" stop-color="#0091ff"/><stop offset="0.367" stop-color="#00c6ff"/><stop offset="0.409" stop-color="#00ffff"/><stop offset="0.451" stop-color="#00ffc2"/><stop offset="0.492" stop-color="#00ff8b"/><stop offset="0.534" stop-color="#00ff5a"/><stop offset="0.576" stop-color="#00ff31"/><stop offset="0.617" stop-color="#00ff11"/><stop offset="0.659" stop-color="#00ff00"/><stop offset="0.701" stop-color="#04ff00"/><stop offset="0.742" stop-color="#13ff00"/><stop offset="0.784" stop-color="#2fff00"/><stop offset="0.826" stop-color="#58ff00"/><stop offset="0.867" stop-color="#90ff00"/><stop offset="0.909" stop-color="#d7ff00"/><stop offset="0.951" stop-color="#ffde00"/><stop offset="0.992" stop-color="#ffa200"/><stop offset="1.000" stop-color="#ff9800"/></linearGradient>
<linearGradient id="r42"><stop offset="0.000" stop-color="#0000ff"/><stop offset="0.163" stop-color="#0000ff"/><stop offset="0.204" stop-color="#0015ff"/><stop offset="0.245" stop-color="#0037ff"/><stop offset="0.286" stop-color="#0061ff"/><stop offset="0.328" stop-color="#0091ff"/><stop offset="0.369" stop-color="#00c6ff"/><stop offset="0.410" stop-color="#00ffff"/><stop offset="0.451" stop-color="#00ffc2"/><stop offset="0.492" stop-color="#00ff8b"/><stop offset="0.534" stop-color="#00ff5a"/><stop offset="0.575" stop-color="#00ff31"/><stop offset="0.616" stop-color="#00ff11"/><stop offset="0.657" stop-color="#00ff00"/><stop offset="0.698" stop-color="#04ff00"/><stop offset="0.740" stop-color="#13ff00"/><stop offset="0.781" stop-color="#2fff00"/><stop offset="0.822" stop-color="#58ff00"/><stop offset="0.863" stop-color="#90ff00"/><stop offset="0.904" stop-color="#d7ff00"/><stop offset="0.946" stop-color="#ffde00"/><stop offset="0.987" stop-color="#ffa200"/><stop offset="1.000" stop-color="#ff9100"/></linearGradient>
<linearGradient id="r43"><stop offset="0.000" stop-color="#0000ff"/><stop offset="0.166" stop-color="#0000ff"/><stop offset="0.207" stop-color="#0015ff"/><stop offset="0.248" stop-color="#0037ff"/><stop offset="0.289" stop-color="#0061ff"/><stop offset="0.330" stop-color="#0091ff"/><stop offset="0.370" stop-color="#00c6ff"/><stop offset="0.411" stop-color="#00ffff"/><stop offset="0.452" stop-color="#00ffc2"/><stop offset="0.493" stop-color="#00ff8b"/><stop offset="0.533" stop-color="#00ff5a"/><stop offset="0.574" stop-color="#00ff31"/><stop offset="0.615" stop-color="#00ff11"/><stop offset="0.656" stop-color="#00ff00"/><stop offset="0.696" stop-color="#04ff00"/><stop offset="0.737" stop-color="#13ff00"/><stop offset="0.778" stop-color="#2fff00"/><stop offset="0.819" stop-color="#58ff00"/><stop offset="0.859" stop-color="#90ff00"/><stop offset="0.900" stop-color="#d7ff00"/><stop offset="0.941" stop-color="#ffde00"/><stop offset="0.982" stop-color="#ffa200"/><stop offset="1.000" stop-color="#ff8900"/></linearGradient>
<linearGradient id="r44"><stop offset="0.000" stop-color="#0000ff"/><stop offset="0.170" stop-color="#0000ff"/><stop offset="0.210" stop-color="#0015ff"/><stop offset="0.251" stop-color="#0037ff"/><stop offset="0.291" stop-color="#0061ff"/><stop offset="0.331" stop-color="#0091ff"/><stop offset="0.372" stop-color="#00c6ff"/><stop offset="0.412" stop-color="#00ffff"/><stop offset="0.452" stop-color="#00ffc2"/><stop offset="0.493" stop-color="#00ff8b"/><stop offset="0.533" stop-color="#00ff5a"/><stop offset="0.573" stop-color="#00ff31"/><stop offset="0.614" stop-color="#00ff11"/><stop offset="0.654" stop-color="#00ff00"/><stop offset="0.694" stop-color="#04ff00"/><stop offset="0.735" stop-color="#13ff00"/><stop offset="0.775" stop-color="#2fff00"/><stop offset="0.815" stop-color="#58ff00"/><stop offset="0.856" stop-color="#90ff00"/><stop offset="0.896" stop-color="#d7ff00"/><stop offset="0.936" stop-color="#ffde00"/><stop offset="0.976" stop-color="#ffa200"/><stop offset="1.000" stop-color="#ff8200"/></linearGradient>
<linearGradient id="r45"><stop offset="0.000" stop-color="#0000ff"/><stop offset="0.174" stop-color="#0000ff"/><stop offset="0.213" stop-color="#0015ff"/><stop offset="0.253" stop-color="#0037ff"/><stop offset="0.293" stop-color="#0061ff"/><stop offset="0.333" stop-color="#0091ff"/><stop offset="0.373" stop-color="#00c6ff"/><stop offset="0.413" stop-color="#00ffff"/><stop offset="0.453" stop-color="#00ffc2"/><stop offset="0.493" stop-color="#00ff8b"/><stop offset="0.533" stop-color="#00ff5a"/><stop offset="0.572" stop-color="#00ff31"/><stop offset="0.612" stop-color="#00ff11"/><stop offset="0.652" stop-color="#00ff00"/><stop offset="0.692" stop-color="#04ff00"/><stop offset="0.732" stop-color="#13ff00"/><stop offset="0.772" stop-color="#2fff00"/><stop offset="0.812" stop-color="#58ff00"/><stop offset="0.852" stop-color="#90ff00"/><stop offset="0.892" stop-color="#d7ff00"/><stop offset="0.932" stop-color="#ffde00"/><stop offset="0.971" stop-color="#ffa200"/><stop offset="1.000" stop-color="#ff7b00"/></linearGradient>
<linearGradient id="r46"><stop offset="0.000" stop-color="#0000ff"/><stop offset="0.177" stop-color="#0000ff"/><stop offset="0.216" stop-color="#0015ff"/><stop offset="0.256" stop-color="#0037ff"/><stop offset="0.295" stop-color="#0061ff"/><stop offset="0.335" stop-color="#0091ff"/><stop offset="0.374" stop-color="#00c6ff"/><stop offset="0.414" stop-color="#00ffff"/><stop offset="0.453" stop-color="#00ffc2"/><stop offset="0.493" stop-color="#00ff8b"/><stop offset="0.532" stop-color="#00ff5a"/><stop offset="0.572" stop-color="#00ff31"/><stop offset="0.611" stop-color="#00ff11"/><stop offset="0.651" stop-color="#00ff00"/><stop offset="0.690" stop-color="#04ff00"/><stop offset="0.730" stop-color="#13ff00"/><stop offset="0.769" stop-color="#2fff00"/><stop offset="0.809" stop-color="#58ff00"/><stop offset="0.848" stop-color="#90ff00"/><stop offset="0.888" stop-color="#d7ff00"/><stop offset="0.927" stop-color="#ffde00"/><stop offset="0.966" stop-color="#ffa200"/><stop offset="1.000" stop-color="#ff7400"/></linearGradient>
<linearGradient id="r47"><stop offset="0.000" stop-color="#0000ff"/><stop offset="0.180" stop-color="#0000ff"/><stop offset="0.219" stop-color="#0015ff"/><stop offset="0.258" stop-color="#0037ff"/><stop offset="0.297" stop-color="#0061ff"/><stop offset="0.337" stop-color="#0091ff"/><stop offset="0.376" stop-color="#00c6ff"/><stop offset="0.415" stop-color="#00ffff"/><stop offset="0.454" stop-color="#00ffc2"/><stop offset="0.493" stop-color="#00ff8b"/><stop offset="0.532" stop-color="#00ff5a"/><stop offset="0.571" stop-color="#00ff31"/><stop offset="0.610" stop-color="#00ff11"/><stop offset="0.649" stop-color="#00ff00"/><stop offset="0.688" stop-color="#04ff00"/><stop offset="0.727" stop-color="#13ff00"/><stop offset="0.766" stop-color="#2fff00"/><stop offset="0.805" stop-color="#58ff00"/><stop offset="0.844" stop-color="#90ff00"/><stop offset="0.884" stop-color="#d7ff00"/><stop offset="0.923" stop-color="#ffde00"/><stop offset="0.962" stop-color="#ffa200"/><stop offset="1.000" stop-color="#ff6e00"/></linearGradient>
<linearGradient id="r48"><stop offset="0.000" stop-color="#0000ff"/><stop offset="0.183" stop-color="#0000ff"/><stop offset="0.222" stop-color="#0015ff"/><stop offset="0.261" stop-color="#0037ff"/><stop offset="0.300" stop-color="#0061ff"/><stop offset="0.338" stop-color="#0091ff"/><stop offset="0.377" stop-color="#00c6ff"/><stop offset="0.416" stop-color="#00ffff"/><stop offset="0.454" stop-color="#00ffc2"/><stop offset="0.493" stop-color="#00ff8b"/><stop offset="0.532" stop-color="#00ff5a"/><stop offset="0.570" stop-color="#00ff31"/><stop offset="0.609" stop-color="#00ff11"/><stop offset="0.648" stop-color="#00ff00"/><stop offset="0.686" stop-color="#04ff00"/><stop offset="0.725" stop-color="#13ff00"/><stop offset="0.764" stop-color="#2fff00"/><stop offset="0.802" stop-color="#58ff00"/><stop offset="0.841" stop-color="#90ff00"/><stop offset="0.880" stop-color="#d7ff00"/><stop offset="0.918" stop-color="#ffde00"/><stop offset="0.957" stop-color="#ffa200"/><stop offset="0.996" stop-color="#ff6d00"/><stop offset="1.000" stop-color="#ff6700"/></linearGradient>
<linearGradient id="r49"><stop offset="0.000" stop-color="#0000ff"/><stop offset="0.187" stop-color="#0000ff"/><stop offset="0.225" stop-color="#0015ff"/><stop offset="0.263" stop-color="#0037ff"/><stop offset="0.302" stop-color="#0061ff"/><stop offset="0.340" stop-color="#0091ff"/><stop offset="0.378" stop-color="#00c6ff"/><stop offset="0.416" stop-color="#00ffff"/><stop offset="0.455" stop-color="#00ffc2"/><stop offset="0.493" stop-color="#00ff8b"/><stop offset="0.531" stop-color="#00ff5a"/><stop offset="0.569" stop-color="#00ff31"/><stop offset="0.608" stop-color="#00ff11"/><stop offset="0.646" stop-color="#00ff00"/><stop offset="0.684" stop-color="#04ff00"/><stop offset="0.723" stop-color="#13ff00"/><stop offset="0.761" stop-color="#2fff00"/><stop offset="0.799" stop-color="#58ff00"/><stop offset="0.837" stop-color="#90ff00"/><stop offset="0.876" stop-color="#d7ff00"/><stop offset="0.914" stop-color="#ffde00"/><stop offset="0.952" stop-color="#ffa200"/><stop offset="0.991" stop-color="#ff6d00"/><stop offset="1.000" stop-color="#ff6000"/></linearGradient>
<linearGradient id="r50"><stop offset="0.000" stop-color="#0000ff"/><stop offset="0.190" stop-color="#0000ff"/><stop offset="0.228" stop-color="#0015ff"/><stop offset="0.266" stop-color="#0037ff"/><stop offset="0.304" stop-color="#0061ff"/><stop offset="0.341" stop-color="#0091ff"/><stop offset="0.379" stop-color="#00c6ff"/><stop offset="0.417" stop-color="#00ffff"/><stop offset="0.455" stop-color="#00ffc2"/><stop offset="0.493" stop-color="#00ff8b"/><stop offset="0.531" stop-color="#00ff5a"/><stop offset="0.569" stop-color="#00ff31"/><stop offset="0.607" stop-color="#00ff11"/><stop offset="0.645" stop-color="#00ff00"/><stop offset="0.682" stop-color="#04ff00"/><stop offset="0.720" stop-color="#13ff00"/><stop offset="0.758" stop-color="#2fff00"/><stop offset="0.796" stop-color="#58ff00"/><stop offset="0.834" stop-color="#90ff00"/><stop offset="0.872" stop-color="#d7ff00"/><stop offset="0.910" stop-color="#ffde00"/><stop offset="0.948" stop-color="#ffa200"/><stop offset="0.986" stop-color="#ff6d00"/><stop offset="1.000" stop-color="#ff5a00"/></linearGradient>
<linearGradient id="r51"><stop offset="0.000" stop-color="#0000ff"/><stop offset="0.193" stop-color="#0000ff"/><stop offset="0.230" stop-color="#0015ff"/><stop offset="0.268" stop-color="#0037ff"/><stop offset="0.305" stop-color="#0061ff"/><stop offset="0.343" stop-color="#0091ff"/><stop offset="0.380" stop-color="#00c6ff"/><stop offset="0.418" stop-color="#00ffff"/><stop offset="0.456" stop-color="#00ffc2"/><stop offset="0.493" stop-color="#00ff8b"/><stop offset="0.531" stop-color="#00ff5a"/><stop offset="0.568" stop-color="#00ff31"/><stop offset="0.606" stop-color="#00ff11"/><stop offset="0.643" stop-color="#00ff00"/><stop offset="0.681" stop-color="#04ff00"/><stop offset="0.718" stop-color="#13ff00"/><stop offset="0.756" stop-color="#2fff00"/><stop offset="0.793" stop-color="#58ff00"/><stop offset="0.831" stop-color="#90ff00"/><stop offset="0.868" stop-color="#d7ff00"/><stop offset="0.906" stop-color="#ffde00"/><stop offset="0.943" stop-color="#ffa200"/><stop offset="0.981" stop-color="#ff6d00"/><stop offset="1.000" stop-color="#ff5400"/></linearGradient>
<linearGradient id="r52"><stop offset="0.000" stop-color="#0000ff"/><stop offset="0.196" stop-color="#0000ff"/><stop offset="0.233" stop-color="#0015ff"/><stop offset="0.270" stop-color="#0037ff"/><stop offset="0.307" stop-color="#0061ff"/><stop offset="0.344" stop-color="#0091ff"/><stop offset="0.382" stop-color="#00c6ff"/><stop offset="0.419" stop-color="#00ffff"/><stop offset="0.456" stop-color="#00ffc2"/><stop offset="0.493" stop-color="#00ff8b"/><stop offset="0.530" stop-color="#00ff5a"/><stop offset="0.567" stop-color="#00ff31"/><stop offset="0.605" stop-color="#00ff11"/><stop offset="0.642" stop-color="#00ff00"/><stop offset="0.679" stop-color="#04ff00"/><stop offset="0.716" stop-color="#13ff00"/><stop offset="0.753" stop-color="#2fff00"/><stop offset="0.790" stop-color="#58ff00"/><stop offset="0.827" stop-color="#90ff00"/><stop offset="0.865" stop-color="#d7ff00"/><stop offset="0.902" stop-color="#ffde00"/><stop offset="0.939" stop-color="#ffa200"/><stop offset="0.976" stop-color="#ff6d00"/><stop offset="1.000" stop-color="#ff4d00"/></linearGradient>
<linearGradient id="r53"><stop offset="0.000" stop-color="#0000ff"/><stop offset="0.199" stop-color="#0000ff"/><stop offset="0.236" stop-color="#0015ff"/><stop offset="0.272" stop-color="#0037ff"/><stop offset="0.309" stop-color="#0061ff"/><stop offset="0.346" stop-color="#0091ff"/><stop offset="0.383" stop-color="#00c6ff"/><stop offset="0.420" stop-color="#00ffff"/><stop offset="0.456" stop-color="#00ffc2"/><stop offset="0.493" stop-color="#00ff8b"/><stop offset="0.530" stop-color="#00ff5a"/><stop offset="0.567" stop-color="#00ff31"/><stop offset="0.604" stop-color="#00ff11"/><stop offset="0.640" stop-color="#00ff00"/><stop offset="0.677" stop-color="#04ff00"/><stop offset="0.714" stop-color="#13ff00"/><stop offset="0.751" stop-color="#2fff00"/><stop offset="0.787" stop-color="#58ff00"/><stop offset="0.824" stop-color="#90ff00"/><stop offset="0.861" stop-color="#d7ff00"/><stop offset="0.898" stop-color="#ffde00"/><stop offset="0.935" stop-color="#ffa200"/><stop offset="0.971" stop-color="#ff6d00"/><stop offset="1.000" stop-color="#ff4700"/></linearGradient>
<linearGradient id="r54"><stop offset="0.000" stop-color="#0000ff"/><stop offset="0.202" stop-color="#0000ff"/><stop offset="0.238" stop-color="#0015ff"/><stop offset="0.275" stop-color="#0037ff"/><stop offset="0.311" stop-color="#0061ff"/><stop offset="0.347" stop-color="#0091ff"/><stop offset="0.384" stop-color="#00c6ff"/><stop offset="0.420" stop-color="#00ffff"/><stop offset="0.457" stop-color="#00ffc2"/><stop offset="0.493" stop-color="#00ff8b"/><stop offset="0.530" stop-color="#00ff5a"/><stop offset="0.566" stop-color="#00ff31"/><stop offset="0.603" stop-color="#00ff11"/><stop offset="0.639" stop-color="#00ff00"/><stop offset="0.675" stop-color="#04ff00"/><stop offset="0.712" stop-color="#13ff00"/><stop offset="0.748" stop-color="#2fff00"/><stop offset="0.785" stop-color="#58ff00"/><stop offset="0.821" stop-color="#90ff00"/><stop offset="0.858" stop-color="#d7ff00"/><stop offset="0.894" stop-color="#ffde00"/><stop offset="0.930" stop-color="#ffa200"/><stop offset="0.967" stop-color="#ff6d00"/><stop offset="1.000" stop-color="#ff4100"/></linearGradient>
<linearGradient id="r55"><stop offset="0.000" stop-color="#0000ff"/><stop offset="0.205" stop-color="#0000ff"/><stop offset="0.241" stop-color="#0015ff"/><stop offset="0.277" stop-color="#0037ff"/><stop offset="0.313" stop-color="#0061ff"/><stop offset="0.349" stop-color="#0091ff"/><stop offset="0.385" stop-color="#00c6ff"/><stop offset="0.421" stop-color="#00ffff"/><stop offset="0.457" stop-color="#00ffc2"/><stop offset="0.493" stop-color="#00ff8b"/><stop offset="0.529" stop-color="#00ff5a"/><stop offset="0.565" stop-color="#00ff31"/><stop offset="0.602" stop-color="#00ff11"/><stop offset="0.638" stop-color="#00ff00"/><stop offset="0.674" stop-color="#04ff00"/><stop offset="0.710" stop-color="#13ff00"/><stop offset="0.746" stop-color="#2fff00"/><stop offset="0.782" stop-color="#58ff00"/><stop offset="0.818" stop-color="#90ff00"/><stop offset="0.854" stop-color="#d7ff00"/><stop offset="0.890" stop-color="#ffde00"/><stop offset="0.926" stop-color="#ffa200"/><stop offset="0.962" stop-color="#ff6d00"/><stop offset="0.998" stop-color="#ff3e00"/><stop offset="1.000" stop-color="#ff3c00"/></linearGradient>
<linearGradient id="r56"><stop offset="0.000" stop-color="#0000ff"/><stop offset="0.207" stop-color="#0000ff"/><stop offset="0.243" stop-color="#0015ff"/><stop offset="0.279" stop-color="#0037ff"/><stop offset="0.315" stop-color="#0061ff"/><stop offset="0.350" stop-color="#0091ff"/><stop offset="0.386" stop-color="#00c6ff"/><stop offset="0.422" stop-color="#00ffff"/><stop offset="0.458" stop-color="#00ffc2"/><stop offset="0.493" stop-color="#00ff8b"/><stop offset="0.529" stop-color="#00ff5a"/><stop offset="0.565" stop-color="#00ff31"/><stop offset="0.601" stop-color="#00ff11"/><stop offset="0.636" stop-color="#00ff00"/><stop offset="0.672" stop-color="#04ff00"/><stop offset="0.708" stop-color="#13ff00"/><stop offset="0.744" stop-color="#2fff00"/><stop offset="0.779" stop-color="#58ff00"/><stop offset="0.815" stop-color="#90ff00"/><stop offset="0.851" stop-color="#d7ff00"/><stop offset="0.887" stop-color="#ffde00"/><stop offset="0.922" stop-color="#ffa200"/><stop offset="0.958" stop-color="#ff6d00"/><stop offset="0.994" stop-color="#ff3e00"/><stop offset="1.000" stop-color="#ff3600"/></linearGradient>
<linearGradient id="r57"><stop offset="0.000" stop-color="#0000ff"/><stop offset="0.210" stop-color="#0000ff"/><stop offset="0.246" stop-color="#0015ff"/><stop offset="0.281" stop-color="#0037ff"/><stop offset="0.316" stop-color="#0061ff"/><stop offset="0.352" stop-color="#0091ff"/><stop offset="0.387" stop-color="#00c6ff"/><stop offset="0.423" stop-color="#00ffff"/><stop offset="0.458" stop-color="#00ffc2"/><stop offset="0.493" stop-color="#00ff8b"/><stop offset="0.529" stop-color="#00ff5a"/><stop offset="0.564" stop-color="#00ff31"/><stop offset="0.600" stop-color="#00ff11"/><stop offset="0.635" stop-color="#00ff00"/><stop offset="0.670" stop-color="#04ff00"/><stop offset="0.706" stop-color="#13ff00"/><stop offset="0.741" stop-color="#2fff00"/><stop offset="0.777" stop-color="#58ff00"/><stop offset="0.812" stop-color="#90ff00"/><stop offset="0.847" stop-color="#d7ff00"/><stop offset="0.883" stop-color="#ffde00"/><stop offset="0.918" stop-color="#ffa200"/><stop offset="0.954" stop-color="#ff6d00"/><stop offset="0.989" stop-color="#ff3e00"/><stop offset="1.000" stop-color="#ff3100"/></linearGradient>
<linearGradient id="r58"><stop offset="0.000" stop-color="#0000ff"/><stop offset="0.213" stop-color="#0000ff"/><stop offset="0.248" stop-color="#0015ff"/><stop offset="0.283" stop-color="#0037ff"/><stop offset="0.318" stop-color="#0061ff"/><stop offset="0.353" stop-color="#0091ff"/><stop offset="0.388" stop-color="#00c6ff"/><stop offset="0.423" stop-color="#00ffff"/><stop offset="0.458" stop-color="#00ffc2"/><stop offset="0.493" stop-color="#00ff8b"/><stop offset="0.529" stop-color="#00ff5a"/><stop offset="0.564" stop-color="#00ff31"/><stop offset="0.599" stop-color="#00ff11"/><stop offset="0.634" stop-color="#00ff00"/><stop offset="0.669" stop-color="#04ff00"/><stop offset="0.704" stop-color="#13ff00"/><stop offset="0.739" stop-color="#2fff00"/><stop offset="0.774" stop-color="#58ff00"/><stop offset="0.809" stop-color="#90ff00"/><stop offset="0.844" stop-color="#d7ff00"/><stop offset="0.879" stop-color="#ffde00"/><stop offset="0.914" stop-color="#ffa200"/><stop offset="0.949" stop-color="#ff6d00"/><stop offset="0.985" stop-color="#ff3e00"/><stop offset="1.000" stop-color="#ff2b00"/></linearGradient>
<linearGradient id="r59"><stop offset="0.000" stop-color="#0000ff"/><stop offset="0.215" stop-color="#0000ff"/><stop offset="0.250" stop-color="#0015ff"/><stop offset="0.285" stop-color="#0037ff"/><stop offset="0.320" stop-color="#0061ff"/><stop offset="0.354" stop-color="#0091ff"/><stop offset="0.389" stop-color="#00c6ff"/><stop offset="0.424" stop-color="#00ffff"/><stop offset="0.459" stop-color="#00ffc2"/><stop offset="0.493" stop-color="#00ff8b"/><stop offset="0.528" stop-color="#00ff5a"/><stop offset="0.563" stop-color="#00ff31"/><stop offset="0.598" stop-color="#00ff11"/><stop offset="0.633" stop-color="#00ff00"/><stop offset="0.667" stop-color="#04ff00"/><stop offset="0.702" stop-color="#13ff00"/><stop offset="0.737" stop-color="#2fff00"/><stop offset="0.772" stop-color="#58ff00"/><stop offset="0.806" stop-color="#90ff00"/><stop offset="0.841" stop-color="#d7ff00"/><stop offset="0.876" stop-color="#ffde00"/><stop offset="0.911" stop-color="#ffa200"/><stop offset="0.945" stop-color="#ff6d00"/><stop offset="0.980" stop-color="#ff3e00"/><stop offset="1.000" stop-color="#ff2600"/></linearGradient>
<linearGradient id="floorg" x1="0" y1="0" x2="1" y2="0"><stop offset="0" stop-color="#8c8c8c"/><stop offset="0.38" stop-color="#5c5c5c"/><stop offset="1" stop-color="#585858"/></linearGradient>
</defs>
<text x="11.0" y="24.7" font-size="16" font-weight="400" fill="#111" text-anchor="start" stroke="#111" stroke-width="0.15">Design-Expert® Software</text>
<text x="11.0" y="39.5" font-size="12.9" font-weight="400" fill="#111" text-anchor="start" stroke="#111" stroke-width="0.15">Factor Coding: Actual</text>
<text x="8.0" y="67.0" font-size="14.35" font-weight="400" fill="#111" text-anchor="start" stroke="#111" stroke-width="0.15">Yarn Unevenness (%)</text>
<ellipse cx="31.8" cy="81.7" rx="9.7" ry="4.6" fill="#e00000" stroke="#000" stroke-width="2.7"/>
<text x="54.5" y="90.1" font-size="13.9" font-weight="400" fill="#a8182c" text-anchor="start" stroke="#a8182c" stroke-width="0.35">Design Points</text>
<text x="20.7" y="110.7" font-size="14.2" font-weight="400" fill="#2c46d2" text-anchor="start" stroke="#2c46d2" stroke-width="0.5">12.11</text>
<rect x="68.5" y="99.5" width="71.5" height="9.5" fill="url(#lg)" stroke="#000" stroke-width="1.3"/>
<text x="147.3" y="109.6" font-size="14.5" font-weight="700" fill="#a01428" text-anchor="start">15.64</text>
<text x="11.0" y="153.6" font-size="16.2" font-weight="400" fill="#111" text-anchor="start" stroke="#111" stroke-width="0.15">X1 = A: Recycled fiber</text>
<text x="12.7" y="175.5" font-size="16.2" font-weight="400" fill="#111" text-anchor="start" stroke="#111" stroke-width="0.15">X2 = B: Cotton fiber</text>
<text x="9.0" y="200.7" font-size="14.4" font-weight="400" fill="#111" text-anchor="start" stroke="#111" stroke-width="0.15">Design-Expert® Software</text>
<text x="9.0" y="215.3" font-size="12.75" font-weight="400" fill="#111" text-anchor="start" stroke="#111" stroke-width="0.15">Factor Coding: Actual</text>
<text x="9.0" y="240.0" font-size="14.4" font-weight="400" fill="#111" text-anchor="start" stroke="#111" stroke-width="0.15">Yarn Unevenness (%)</text>
<ellipse cx="23.5" cy="255.8" rx="6.5" ry="4.5" fill="#e00000" stroke="#000" stroke-width="2.5"/>
<text x="42.0" y="260.5" font-size="12.0" font-weight="400" fill="#7a1c30" text-anchor="start" stroke="#7a1c30" stroke-width="0.3">Design points above predicted value</text>
<ellipse cx="23.5" cy="278.3" rx="6.5" ry="4.7" fill="#fbd8d8" stroke="#000" stroke-width="2.5"/>
<text x="43.5" y="283.0" font-size="12.05" font-weight="400" fill="#7a1c30" text-anchor="start" stroke="#7a1c30" stroke-width="0.3">Design points below predicted value</text>
<text x="12.7" y="304.1" font-size="12.4" font-weight="400" fill="#2c46d2" text-anchor="start" stroke="#2c46d2" stroke-width="0.3">12.11</text>
<rect x="48.5" y="295" width="49.5" height="9.7" fill="url(#lg)" stroke="#000" stroke-width="1.3"/>
<text x="105.5" y="306.6" font-size="12" font-weight="700" fill="#a01428" text-anchor="start">15.64</text>
<text x="9.0" y="350.8" font-size="11.3" font-weight="700" fill="#111" text-anchor="start">X1 = A: Recycled fiber</text>
<text x="9.0" y="368.0" font-size="11.4" font-weight="700" fill="#111" text-anchor="start">X2 = B: Cotton fiber</text>
<g>
<rect x="267" y="24.4" width="221" height="2.6" fill="url(#r0)"/>
<rect x="267" y="26.4" width="221" height="2.6" fill="url(#r1)"/>
<rect x="267" y="28.4" width="221" height="2.6" fill="url(#r2)"/>
<rect x="267" y="30.4" width="221" height="2.6" fill="url(#r3)"/>
<rect x="267" y="32.4" width="221" height="2.6" fill="url(#r4)"/>
<rect x="267" y="34.4" width="221" height="2.6" fill="url(#r5)"/>
<rect x="267" y="36.4" width="221" height="2.6" fill="url(#r6)"/>
<rect x="267" y="38.4" width="221" height="2.6" fill="url(#r7)"/>
<rect x="267" y="40.4" width="221" height="2.6" fill="url(#r8)"/>
<rect x="267" y="42.4" width="221" height="2.6" fill="url(#r9)"/>
<rect x="267" y="44.4" width="221" height="2.6" fill="url(#r10)"/>
<rect x="267" y="46.4" width="221" height="2.6" fill="url(#r11)"/>
<rect x="267" y="48.4" width="221" height="2.6" fill="url(#r12)"/>
<rect x="267" y="50.4" width="221" height="2.6" fill="url(#r13)"/>
<rect x="267" y="52.4" width="221" height="2.6" fill="url(#r14)"/>
<rect x="267" y="54.4" width="221" height="2.6" fill="url(#r15)"/>
<rect x="267" y="56.4" width="221" height="2.6" fill="url(#r16)"/>
<rect x="267" y="58.4" width="221" height="2.6" fill="url(#r17)"/>
<rect x="267" y="60.4" width="221" height="2.6" fill="url(#r18)"/>
<rect x="267" y="62.4" width="221" height="2.6" fill="url(#r19)"/>
<rect x="267" y="64.4" width="221" height="2.6" fill="url(#r20)"/>
<rect x="267" y="66.4" width="221" height="2.6" fill="url(#r21)"/>
<rect x="267" y="68.4" width="221" height="2.6" fill="url(#r22)"/>
<rect x="267" y="70.4" width="221" height="2.6" fill="url(#r23)"/>
<rect x="267" y="72.4" width="221" height="2.6" fill="url(#r24)"/>
<rect x="267" y="74.4" width="221" height="2.6" fill="url(#r25)"/>
<rect x="267" y="76.4" width="221" height="2.6" fill="url(#r26)"/>
<rect x="267" y="78.4" width="221" height="2.6" fill="url(#r27)"/>
<rect x="267" y="80.4" width="221" height="2.6" fill="url(#r28)"/>
<rect x="267" y="82.4" width="221" height="2.6" fill="url(#r29)"/>
<rect x="267" y="84.4" width="221" height="2.6" fill="url(#r30)"/>
<rect x="267" y="86.4" width="221" height="2.6" fill="url(#r31)"/>
<rect x="267" y="88.4" width="221" height="2.6" fill="url(#r32)"/>
<rect x="267" y="90.4" width="221" height="2.6" fill="url(#r33)"/>
<rect x="267" y="92.4" width="221" height="2.6" fill="url(#r34)"/>
<rect x="267" y="94.4" width="221" height="2.6" fill="url(#r35)"/>
<rect x="267" y="96.4" width="221" height="2.6" fill="url(#r36)"/>
<rect x="267" y="98.4" width="221" height="2.6" fill="url(#r37)"/>
<rect x="267" y="100.4" width="221" height="2.6" fill="url(#r38)"/>
<rect x="267" y="102.4" width="221" height="2.6" fill="url(#r39)"/>
<rect x="267" y="104.4" width="221" height="2.6" fill="url(#r40)"/>
<rect x="267" y="106.4" width="221" height="2.6" fill="url(#r41)"/>
<rect x="267" y="108.4" width="221" height="2.6" fill="url(#r42)"/>
<rect x="267" y="110.4" width="221" height="2.6" fill="url(#r43)"/>
<rect x="267" y="112.4" width="221" height="2.6" fill="url(#r44)"/>
<rect x="267" y="114.4" width="221" height="2.6" fill="url(#r45)"/>
<rect x="267" y="116.4" width="221" height="2.6" fill="url(#r46)"/>
<rect x="267" y="118.4" width="221" height="2.6" fill="url(#r47)"/>
<rect x="267" y="120.4" width="221" height="2.6" fill="url(#r48)"/>
<rect x="267" y="122.4" width="221" height="2.6" fill="url(#r49)"/>
<rect x="267" y="124.4" width="221" height="2.6" fill="url(#r50)"/>
<rect x="267" y="126.4" width="221" height="2.6" fill="url(#r51)"/>
<rect x="267" y="128.4" width="221" height="2.6" fill="url(#r52)"/>
<rect x="267" y="130.4" width="221" height="2.6" fill="url(#r53)"/>
<rect x="267" y="132.4" width="221" height="2.6" fill="url(#r54)"/>
<rect x="267" y="134.4" width="221" height="2.6" fill="url(#r55)"/>
<rect x="267" y="136.4" width="221" height="2.6" fill="url(#r56)"/>
<rect x="267" y="138.4" width="221" height="2.6" fill="url(#r57)"/>
<rect x="267" y="140.4" width="221" height="2.6" fill="url(#r58)"/>
<rect x="267" y="142.4" width="221" height="2" fill="url(#r59)"/>
</g>
<path d="M267.5,61.4 L268.3,62.4 L269.1,63.4 L269.8,64.4 L270.6,65.4 L271.4,66.4 L272.1,67.4 L272.8,68.4 L273.6,69.4 L274.3,70.4 L275.0,71.4 L275.7,72.4 L276.4,73.4 L277.1,74.4 L277.7,75.4 L278.4,76.4 L279.1,77.4 L279.7,78.4 L280.3,79.4 L281.0,80.4 L281.6,81.4 L282.2,82.4 L282.8,83.4 L283.4,84.4 L284.0,85.4 L284.6,86.4 L285.1,87.4 L285.7,88.4 L286.3,89.4 L286.8,90.4 L287.4,91.4 L287.9,92.4 L288.4,93.4 L289.0,94.4 L289.5,95.4 L290.0,96.4 L290.5,97.4 L291.0,98.4 L291.5,99.4 L292.0,100.4 L292.5,101.4 L293.0,102.4 L293.4,103.4 L293.9,104.4 L294.4,105.4 L294.8,106.4 L295.3,107.4 L295.7,108.4 L296.2,109.4 L296.6,110.4 L297.1,111.4 L297.5,112.4 L297.9,113.4 L298.3,114.4 L298.8,115.4 L299.2,116.4 L299.6,117.4 L300.0,118.4 L300.4,119.4 L300.8,120.4 L301.2,121.4 L301.5,122.4 L301.9,123.4 L302.3,124.4 L302.7,125.4 L303.1,126.4 L303.4,127.4 L303.8,128.4 L304.2,129.4 L304.5,130.4 L304.9,131.4 L305.2,132.4 L305.6,133.4 L305.9,134.4 L306.2,135.4 L306.6,136.4 L306.9,137.4 L307.2,138.4 L307.6,139.4 L307.9,140.4 L308.2,141.4 L308.5,142.4 L308.9,143.4 L309.2,144.4" fill="none" stroke="#c0188c" stroke-width="1.35"/>
<path d="M341.5,24.4 L341.9,25.4 L342.3,26.4 L342.6,27.4 L342.9,28.4 L343.3,29.4 L343.6,30.4 L343.9,31.4 L344.2,32.4 L344.5,33.4 L344.8,34.4 L345.1,35.4 L345.4,36.4 L345.7,37.4 L346.0,38.4 L346.3,39.4 L346.5,40.4 L346.8,41.4 L347.1,42.4 L347.3,43.4 L347.6,44.4 L347.8,45.4 L348.1,46.4 L348.3,47.4 L348.5,48.4 L348.8,49.4 L349.0,50.4 L349.2,51.4 L349.5,52.4 L349.7,53.4 L349.9,54.4 L350.1,55.4 L350.3,56.4 L350.5,57.4 L350.7,58.4 L350.9,59.4 L351.1,60.4 L351.3,61.4 L351.5,62.4 L351.7,63.4 L351.9,64.4 L352.0,65.4 L352.2,66.4 L352.4,67.4 L352.6,68.4 L352.7,69.4 L352.9,70.4 L353.1,71.4 L353.2,72.4 L353.4,73.4 L353.6,74.4 L353.7,75.4 L353.9,76.4 L354.0,77.4 L354.2,78.4 L354.3,79.4 L354.5,80.4 L354.6,81.4 L354.8,82.4 L354.9,83.4 L355.1,84.4 L355.2,85.4 L355.3,86.4 L355.5,87.4 L355.6,88.4 L355.7,89.4 L355.9,90.4 L356.0,91.4 L356.1,92.4 L356.3,93.4 L356.4,94.4 L356.5,95.4 L356.6,96.4 L356.7,97.4 L356.9,98.4 L357.0,99.4 L357.1,100.4 L357.2,101.4 L357.3,102.4 L357.4,103.4 L357.6,104.4 L357.7,105.4 L357.8,106.4 L357.9,107.4 L358.0,108.4 L358.1,109.4 L358.2,110.4 L358.3,111.4 L358.4,112.4 L358.5,113.4 L358.6,114.4 L358.7,115.4 L358.8,116.4 L358.9,117.4 L359.0,118.4 L359.1,119.4 L359.2,120.4 L359.3,121.4 L359.4,122.4 L359.4,123.4 L359.5,124.4 L359.6,125.4 L359.7,126.4 L359.8,127.4 L359.9,128.4 L360.0,129.4 L360.1,130.4 L360.1,131.4 L360.2,132.4 L360.3,133.4 L360.4,134.4 L360.5,135.4 L360.5,136.4 L360.6,137.4 L360.7,138.4 L360.8,139.4 L360.9,140.4 L360.9,141.4 L361.0,142.4 L361.1,143.4 L361.2,144.4" fill="none" stroke="#0a4a40" stroke-width="1.35"/>
<path d="M456.9,24.4 L456.1,25.4 L455.3,26.4 L454.5,27.4 L453.8,28.4 L453.1,29.4 L452.3,30.4 L451.6,31.4 L450.9,32.4 L450.2,33.4 L449.6,34.4 L448.9,35.4 L448.2,36.4 L447.6,37.4 L447.0,38.4 L446.4,39.4 L445.8,40.4 L445.2,41.4 L444.6,42.4 L444.0,43.4 L443.5,44.4 L442.9,45.4 L442.4,46.4 L441.8,47.4 L441.3,48.4 L440.8,49.4 L440.3,50.4 L439.8,51.4 L439.3,52.4 L438.8,53.4 L438.3,54.4 L437.8,55.4 L437.4,56.4 L436.9,57.4 L436.5,58.4 L436.0,59.4 L435.6,60.4 L435.1,61.4 L434.7,62.4 L434.3,63.4 L433.9,64.4 L433.5,65.4 L433.1,66.4 L432.7,67.4 L432.3,68.4 L431.9,69.4 L431.5,70.4 L431.2,71.4 L430.8,72.4 L430.4,73.4 L430.1,74.4 L429.7,75.4 L429.4,76.4 L429.0,77.4 L428.7,78.4 L428.4,79.4 L428.0,80.4 L427.7,81.4 L427.4,82.4 L427.1,83.4 L426.7,84.4 L426.4,85.4 L426.1,86.4 L425.8,87.4 L425.5,88.4 L425.2,89.4 L424.9,90.4 L424.6,91.4 L424.4,92.4 L424.1,93.4 L423.8,94.4 L423.5,95.4 L423.3,96.4 L423.0,97.4 L422.7,98.4 L422.5,99.4 L422.2,100.4 L421.9,101.4 L421.7,102.4 L421.4,103.4 L421.2,104.4 L420.9,105.4 L420.7,106.4 L420.5,107.4 L420.2,108.4 L420.0,109.4 L419.8,110.4 L419.5,111.4 L419.3,112.4 L419.1,113.4 L418.9,114.4 L418.6,115.4 L418.4,116.4 L418.2,117.4 L418.0,118.4 L417.8,119.4 L417.6,120.4 L417.4,121.4 L417.2,122.4 L417.0,123.4 L416.8,124.4 L416.6,125.4 L416.4,126.4 L416.2,127.4 L416.0,128.4 L415.8,129.4 L415.6,130.4 L415.4,131.4 L415.2,132.4 L415.1,133.4 L414.9,134.4 L414.7,135.4 L414.5,136.4 L414.3,137.4 L414.2,138.4 L414.0,139.4 L413.8,140.4 L413.6,141.4 L413.5,142.4 L413.3,143.4 L413.1,144.4" fill="none" stroke="#0a3a0a" stroke-width="1.35"/>
<path d="M487.9,99.4 L487.3,100.4 L486.7,101.4 L486.1,102.4 L485.4,103.4 L484.8,104.4 L484.2,105.4 L483.6,106.4 L483.1,107.4 L482.5,108.4 L481.9,109.4 L481.3,110.4 L480.8,111.4 L480.2,112.4 L479.7,113.4 L479.1,114.4 L478.6,115.4 L478.1,116.4 L477.5,117.4 L477.0,118.4 L476.5,119.4 L476.0,120.4 L475.5,121.4 L475.0,122.4 L474.5,123.4 L474.0,124.4 L473.5,125.4 L473.0,126.4 L472.6,127.4 L472.1,128.4 L471.6,129.4 L471.2,130.4 L470.7,131.4 L470.2,132.4 L469.8,133.4 L469.4,134.4 L468.9,135.4 L468.5,136.4 L468.0,137.4 L467.6,138.4 L467.2,139.4 L466.8,140.4 L466.4,141.4 L465.9,142.4 L465.5,143.4 L465.1,144.4" fill="none" stroke="#3a2a00" stroke-width="1.35"/>
<rect x="288.1" y="96.9" width="8.4" height="4.2" fill="#fff" stroke="#222" stroke-width="0.9"/>
<text x="292.3" y="100.5" font-size="3.6" font-weight="400" fill="#333" text-anchor="middle">12</text>
<rect x="350.8" y="78.9" width="8.4" height="4.2" fill="#fff" stroke="#222" stroke-width="0.9"/>
<text x="355.0" y="82.5" font-size="3.6" font-weight="400" fill="#333" text-anchor="middle">13</text>
<rect x="423.6" y="75.7" width="8.4" height="4.2" fill="#fff" stroke="#222" stroke-width="0.9"/>
<text x="427.8" y="79.3" font-size="3.6" font-weight="400" fill="#333" text-anchor="middle">14</text>
<rect x="471.0" y="117.9" width="8.4" height="4.2" fill="#fff" stroke="#222" stroke-width="0.9"/>
<text x="475.2" y="121.5" font-size="3.6" font-weight="400" fill="#333" text-anchor="middle">15</text>
<path d="M267,23.9 V144.9 H488.5" fill="none" stroke="#000" stroke-width="1"/>
<path d="M488,24.4 V144.4" fill="none" stroke="#222" stroke-width="0.8"/>
<path d="M261.5,24.4 H267" stroke="#444" stroke-width="0.9"/>
<text x="260.2" y="27.6" font-size="8.8" font-weight="700" fill="#111" text-anchor="end">80</text>
<path d="M267.0,144.4 V147.9" stroke="#000" stroke-width="1"/>
<path d="M261.5,48.4 H267" stroke="#444" stroke-width="0.9"/>
<text x="260.2" y="51.6" font-size="8.8" font-weight="700" fill="#111" text-anchor="end">74</text>
<path d="M311.2,144.4 V147.9" stroke="#000" stroke-width="1"/>
<path d="M261.5,72.4 H267" stroke="#444" stroke-width="0.9"/>
<text x="260.2" y="75.6" font-size="8.8" font-weight="700" fill="#111" text-anchor="end">68</text>
<path d="M355.4,144.4 V147.9" stroke="#000" stroke-width="1"/>
<path d="M261.5,96.4 H267" stroke="#444" stroke-width="0.9"/>
<text x="260.2" y="99.6" font-size="8.8" font-weight="700" fill="#111" text-anchor="end">62</text>
<path d="M399.6,144.4 V147.9" stroke="#000" stroke-width="1"/>
<path d="M261.5,120.4 H267" stroke="#444" stroke-width="0.9"/>
<text x="260.2" y="123.6" font-size="8.8" font-weight="700" fill="#111" text-anchor="end">56</text>
<path d="M443.8,144.4 V147.9" stroke="#000" stroke-width="1"/>
<path d="M261.5,144.4 H267" stroke="#444" stroke-width="0.9"/>
<text x="260.2" y="147.6" font-size="8.8" font-weight="700" fill="#111" text-anchor="end">50</text>
<path d="M488.0,144.4 V147.9" stroke="#000" stroke-width="1"/>
<text x="269.0" y="155.2" font-size="8.8" font-weight="700" fill="#111" text-anchor="middle">20</text>
<text x="312.2" y="158.0" font-size="8.8" font-weight="700" fill="#111" text-anchor="middle">26</text>
<text x="356.4" y="158.0" font-size="8.8" font-weight="700" fill="#111" text-anchor="middle">32</text>
<text x="397.5" y="156.6" font-size="8.8" font-weight="700" fill="#111" text-anchor="middle">38</text>
<text x="444.4" y="157.0" font-size="8.8" font-weight="700" fill="#111" text-anchor="middle">44</text>
<text x="487.3" y="158.5" font-size="8.8" font-weight="700" fill="#111" text-anchor="middle">50</text>
<ellipse cx="267.0" cy="24.4" rx="2.5" ry="1.4" fill="#c00000" stroke="#200" stroke-width="0.9"/>
<ellipse cx="303.8" cy="44.4" rx="2.5" ry="1.4" fill="#c00000" stroke="#200" stroke-width="0.9"/>
<ellipse cx="340.7" cy="64.4" rx="2.5" ry="1.4" fill="#c00000" stroke="#200" stroke-width="0.9"/>
<ellipse cx="377.5" cy="84.4" rx="2.5" ry="1.4" fill="#c00000" stroke="#200" stroke-width="0.9"/>
<ellipse cx="414.3" cy="104.4" rx="2.5" ry="1.4" fill="#c00000" stroke="#200" stroke-width="0.9"/>
<ellipse cx="451.2" cy="124.4" rx="2.5" ry="1.4" fill="#c00000" stroke="#200" stroke-width="0.9"/>
<ellipse cx="488.0" cy="144.4" rx="2.5" ry="1.4" fill="#c00000" stroke="#200" stroke-width="0.9"/>
<text x="366.2" y="20.9" font-size="9.9" font-weight="700" fill="#111" text-anchor="middle">Yarn Unevenness (%)</text>
<text x="372.7" y="168.7" font-size="8.87" font-weight="700" fill="#111" text-anchor="middle">A: Recycled fiber (%)</text>
<text transform="translate(238.2,82.8) rotate(-90)" font-size="8.4" font-weight="700" fill="#111" text-anchor="middle">B:Cotton fiber (%)</text>
<polygon points="290.4,285.2 397.5,313.8 504.6,285.2 397.5,262.3" fill="url(#floorg)" stroke="#222" stroke-width="1"/>
<path d="M322.3,293.7 L322.7,293.8 L323.2,293.8 L323.8,293.9 L324.3,293.9 L324.8,294.0 L325.3,294.0 L325.8,294.1 L326.3,294.2 L326.8,294.2 L327.3,294.3 L327.8,294.3 L328.3,294.4 L328.8,294.5 L329.3,294.5 L329.8,294.6 L330.3,294.6 L330.9,294.7 L331.4,294.8 L331.9,294.8 L332.4,294.9 L332.8,294.9 L333.3,295.0 L333.8,295.1 L334.3,295.1 L334.8,295.2 L335.3,295.3 L335.8,295.3 L336.3,295.4 L336.8,295.4 L337.3,295.5 L337.8,295.6 L338.3,295.6 L338.8,295.7 L339.3,295.8 L339.8,295.8 L340.2,295.9 L340.7,295.9 L341.2,296.0 L341.7,296.1 L342.2,296.1 L342.7,296.2 L343.2,296.3 L343.6,296.3 L344.1,296.4 L344.6,296.5 L345.1,296.5 L345.6,296.6 L346.1,296.6 L346.5,296.7 L347.0,296.8 L347.5,296.8 L348.0,296.9 L348.5,297.0 L348.9,297.0 L349.4,297.1 L349.9,297.2 L350.4,297.2 L350.8,297.3 L351.3,297.4 L351.8,297.4 L352.3,297.5 L352.7,297.6 L353.2,297.6 L353.7,297.7 L354.2,297.8 L354.6,297.8 L355.1,297.9 L355.6,298.0 L356.0,298.0 L356.5,298.1 L357.0,298.2 L357.5,298.2 L357.9,298.3 L358.4,298.4 L358.9,298.4 L359.3,298.5 L359.8,298.6 L360.3,298.6 L360.7,298.7 L361.2,298.8 L361.6,298.8 L362.1,298.9 L362.6,299.0 L363.0,299.0 L363.5,299.1 L364.0,299.2 L364.4,299.3 L364.9,299.3 L365.4,299.4 L365.8,299.5 L366.3,299.5 L366.7,299.6 L367.2,299.7 L367.7,299.7 L368.1,299.8 L368.6,299.9 L369.0,299.9 L369.5,300.0 L369.9,300.1 L370.4,300.2 L370.9,300.2 L371.3,300.3 L371.8,300.4 L372.2,300.4 L372.7,300.5 L373.1,300.6 L373.6,300.7 L374.0,300.7 L374.5,300.8 L374.9,300.9 L375.4,300.9 L375.9,301.0 L376.3,301.1 L376.8,301.1 L377.2,301.2 L377.7,301.3 L378.1,301.4 L378.6,301.4 L379.0,301.5 L379.5,301.6 L379.9,301.7 L380.4,301.7 L380.8,301.8 L381.3,301.9 L381.7,301.9 L382.1,302.0 L382.6,302.1 L383.0,302.2 L383.5,302.2 L383.9,302.3 L384.4,302.4 L384.8,302.4 L385.3,302.5 L385.7,302.6 L386.2,302.7 L386.6,302.7 L387.1,302.8 L387.5,302.9 L387.9,303.0 L388.4,303.0 L388.8,303.1 L389.3,303.2 L389.7,303.2 L390.2,303.3 L390.6,303.4 L391.0,303.5 L391.5,303.5 L391.9,303.6 L392.4,303.7 L392.8,303.8 L393.2,303.8 L393.7,303.9 L394.1,304.0 L394.6,304.1 L395.0,304.1 L395.4,304.2 L395.9,304.3 L396.3,304.4 L396.7,304.4 L397.2,304.5 L397.6,304.6 L398.1,304.7 L398.5,304.7 L398.9,304.8 L399.4,304.9 L399.8,305.0 L400.2,305.0 L400.7,305.1 L401.1,305.2 L401.5,305.3 L402.0,305.3 L402.4,305.4 L402.9,305.5 L403.3,305.6 L403.7,305.6 L404.2,305.7 L404.6,305.8 L405.0,305.9 L405.5,305.9 L405.9,306.0 L406.3,306.1 L406.8,306.2 L407.2,306.2 L407.6,306.3 L408.0,306.4 L408.5,306.5 L408.9,306.5 L409.3,306.6 L409.8,306.7 L410.2,306.8 L410.6,306.8 L411.1,306.9 L411.5,307.0 L411.9,307.1 L412.4,307.1 L412.8,307.2 L413.2,307.3 L413.6,307.4 L414.1,307.4 L414.5,307.5 L414.9,307.6 L415.4,307.7 L415.8,307.8 L416.2,307.8 L416.6,307.9 L417.1,308.0 L417.5,308.1 L417.9,308.1 L418.3,308.2" fill="none" stroke="#1818b0" stroke-width="1.3"/>
<path d="M326.8,277.4 L327.2,277.5 L327.7,277.5 L328.1,277.6 L328.5,277.7 L328.9,277.8 L329.3,277.8 L329.7,277.9 L330.2,278.0 L330.6,278.0 L331.0,278.1 L331.4,278.2 L331.8,278.3 L332.2,278.3 L332.6,278.4 L333.1,278.5 L333.5,278.6 L333.9,278.6 L334.3,278.7 L334.7,278.8 L335.1,278.8 L335.5,278.9 L335.9,279.0 L336.3,279.1 L336.8,279.1 L337.2,279.2 L337.6,279.3 L338.0,279.4 L338.4,279.4 L338.8,279.5 L339.2,279.6 L339.6,279.7 L340.0,279.7 L340.4,279.8 L340.8,279.9 L341.2,280.0 L341.6,280.0 L342.1,280.1 L342.5,280.2 L342.9,280.3 L343.3,280.3 L343.7,280.4 L344.1,280.5 L344.5,280.6 L344.9,280.6 L345.3,280.7 L345.7,280.8 L346.1,280.9 L346.5,280.9 L346.9,281.0 L347.3,281.1 L347.7,281.2 L348.1,281.2 L348.5,281.3 L348.9,281.4 L349.3,281.5 L349.7,281.5 L350.1,281.6 L350.5,281.7 L350.9,281.8 L351.3,281.8 L351.7,281.9 L352.1,282.0 L352.5,282.1 L352.9,282.2 L353.3,282.2 L353.7,282.3 L354.1,282.4 L354.5,282.5 L354.9,282.5 L355.3,282.6 L355.7,282.7 L356.1,282.8 L356.5,282.8 L356.9,282.9 L357.3,283.0 L357.7,283.1 L358.1,283.2 L358.5,283.2 L358.8,283.3 L359.2,283.4 L359.6,283.5 L360.0,283.5 L360.4,283.6 L360.8,283.7 L361.2,283.8 L361.6,283.9 L362.0,283.9 L362.4,284.0 L362.8,284.1 L363.2,284.2 L363.6,284.2 L364.0,284.3 L364.4,284.4 L364.8,284.5 L365.1,284.6 L365.5,284.6 L365.9,284.7 L366.3,284.8 L366.7,284.9 L367.1,285.0 L367.5,285.0 L367.9,285.1 L368.3,285.2 L368.7,285.3 L369.1,285.4 L369.5,285.4 L369.8,285.5 L370.2,285.6 L370.6,285.7 L371.0,285.7 L371.4,285.8 L371.8,285.9 L372.2,286.0 L372.6,286.1 L373.0,286.1 L373.4,286.2 L373.8,286.3 L374.1,286.4 L374.5,286.5 L374.9,286.5 L375.3,286.6 L375.7,286.7 L376.1,286.8 L376.5,286.9 L376.9,286.9 L377.3,287.0 L377.6,287.1 L378.0,287.2 L378.4,287.3 L378.8,287.3 L379.2,287.4 L379.6,287.5 L380.0,287.6 L380.4,287.7 L380.7,287.7 L381.1,287.8 L381.5,287.9 L381.9,288.0 L382.3,288.1 L382.7,288.1 L383.1,288.2 L383.5,288.3 L383.8,288.4 L384.2,288.5 L384.6,288.6 L385.0,288.6 L385.4,288.7 L385.8,288.8 L386.2,288.9 L386.5,289.0 L386.9,289.0 L387.3,289.1 L387.7,289.2 L388.1,289.3 L388.5,289.4 L388.9,289.4 L389.3,289.5 L389.6,289.6 L390.0,289.7 L390.4,289.8 L390.8,289.9 L391.2,289.9 L391.6,290.0 L391.9,290.1 L392.3,290.2 L392.7,290.3 L393.1,290.3 L393.5,290.4 L393.9,290.5 L394.3,290.6 L394.6,290.7 L395.0,290.7 L395.4,290.8 L395.8,290.9 L396.2,291.0 L396.6,291.1 L396.9,291.2 L397.3,291.2 L397.7,291.3 L398.1,291.4 L398.5,291.5 L398.9,291.6 L399.3,291.7 L399.6,291.7 L400.0,291.8 L400.4,291.9 L400.8,292.0 L401.2,292.1 L401.6,292.1 L401.9,292.2 L402.3,292.3 L402.7,292.4 L403.1,292.5 L403.5,292.6 L403.9,292.6 L404.2,292.7 L404.6,292.8 L405.0,292.9 L405.4,293.0 L405.8,293.1 L406.2,293.1 L406.5,293.2 L406.9,293.3 L407.3,293.4 L407.7,293.5 L408.1,293.5 L408.4,293.6 L408.8,293.7 L409.2,293.8 L409.6,293.9 L410.0,294.0 L410.4,294.0 L410.7,294.1 L411.1,294.2 L411.5,294.3 L411.9,294.4 L412.3,294.5 L412.6,294.5 L413.0,294.6 L413.4,294.7 L413.8,294.8 L414.2,294.9 L414.6,295.0 L414.9,295.0 L415.3,295.1 L415.7,295.2 L416.1,295.3 L416.5,295.4 L416.8,295.5 L417.2,295.5 L417.6,295.6 L418.0,295.7 L418.4,295.8 L418.8,295.9 L419.1,296.0 L419.5,296.0 L419.9,296.1 L420.3,296.2 L420.7,296.3 L421.0,296.4 L421.4,296.5 L421.8,296.5 L422.2,296.6 L422.6,296.7 L422.9,296.8 L423.3,296.9 L423.7,297.0 L424.1,297.0 L424.5,297.1 L424.8,297.2 L425.2,297.3 L425.6,297.4 L426.0,297.5 L426.4,297.5 L426.7,297.6 L427.1,297.7 L427.5,297.8 L427.9,297.9 L428.3,298.0 L428.6,298.0 L429.0,298.1 L429.4,298.2 L429.8,298.3 L430.2,298.4 L430.5,298.5 L430.9,298.6 L431.3,298.6 L431.7,298.7 L432.1,298.8 L432.4,298.9 L432.8,299.0 L433.2,299.1 L433.6,299.1 L434.0,299.2 L434.3,299.3 L434.7,299.4 L435.1,299.5 L435.5,299.6 L435.9,299.6 L436.2,299.7 L436.6,299.8 L437.0,299.9 L437.4,300.0 L437.8,300.1 L438.1,300.2 L438.5,300.2 L438.9,300.3 L439.3,300.4 L439.7,300.5 L440.0,300.6 L440.4,300.7 L440.8,300.7 L441.2,300.8 L441.6,300.9 L441.9,301.0 L442.3,301.1 L442.7,301.2 L443.1,301.2 L443.4,301.3 L443.8,301.4" fill="none" stroke="#00c8c8" stroke-width="1.3"/>
<path d="M382.6,265.5 L382.8,265.6 L383.0,265.7 L383.2,265.8 L383.4,265.9 L383.6,266.0 L383.8,266.1 L384.0,266.2 L384.2,266.3 L384.5,266.4 L384.7,266.6 L384.9,266.7 L385.1,266.8 L385.3,266.9 L385.5,267.0 L385.7,267.1 L385.9,267.2 L386.1,267.3 L386.4,267.4 L386.6,267.5 L386.8,267.6 L387.0,267.7 L387.2,267.8 L387.5,268.0 L387.7,268.1 L387.9,268.2 L388.1,268.3 L388.4,268.4 L388.6,268.5 L388.8,268.6 L389.0,268.7 L389.3,268.8 L389.5,268.9 L389.7,269.0 L390.0,269.1 L390.2,269.2 L390.4,269.3 L390.7,269.4 L390.9,269.5 L391.1,269.6 L391.4,269.7 L391.6,269.8 L391.9,269.9 L392.1,270.0 L392.3,270.2 L392.6,270.3 L392.8,270.4 L393.1,270.5 L393.3,270.6 L393.5,270.7 L393.8,270.8 L394.0,270.9 L394.3,271.0 L394.5,271.1 L394.8,271.2 L395.0,271.3 L395.3,271.4 L395.5,271.5 L395.8,271.6 L396.0,271.7 L396.3,271.8 L396.5,271.9 L396.8,272.0 L397.1,272.1 L397.3,272.2 L397.6,272.3 L397.8,272.4 L398.1,272.5 L398.3,272.6 L398.6,272.7 L398.9,272.8 L399.1,272.9 L399.4,273.0 L399.6,273.1 L399.9,273.2 L400.2,273.3 L400.4,273.4 L400.7,273.5 L401.0,273.6 L401.2,273.7 L401.5,273.8 L401.8,273.9 L402.0,274.0 L402.3,274.1 L402.6,274.2 L402.8,274.3 L403.1,274.4 L403.4,274.5 L403.6,274.6 L403.9,274.7 L404.2,274.8 L404.5,274.9 L404.7,275.0 L405.0,275.1 L405.3,275.2 L405.6,275.3 L405.8,275.4 L406.1,275.5 L406.4,275.6 L406.7,275.7 L406.9,275.8 L407.2,275.9 L407.5,276.0 L407.8,276.1 L408.1,276.2 L408.3,276.3 L408.6,276.4 L408.9,276.5 L409.2,276.6 L409.5,276.7 L409.7,276.8 L410.0,276.9 L410.3,277.0 L410.6,277.1 L410.9,277.2 L411.2,277.3 L411.4,277.4 L411.7,277.5 L412.0,277.6 L412.3,277.7 L412.6,277.8 L412.9,277.9 L413.2,277.9 L413.4,278.0 L413.7,278.1 L414.0,278.2 L414.3,278.3 L414.6,278.4 L414.9,278.5 L415.2,278.6 L415.5,278.7 L415.8,278.8 L416.1,278.9 L416.3,279.0 L416.6,279.1 L416.9,279.2 L417.2,279.3 L417.5,279.4 L417.8,279.5 L418.1,279.6 L418.4,279.7 L418.7,279.8 L419.0,279.9 L419.3,280.0 L419.6,280.1 L419.9,280.2 L420.2,280.3 L420.5,280.4 L420.8,280.5 L421.1,280.6 L421.4,280.7 L421.7,280.7 L422.0,280.8 L422.3,280.9 L422.6,281.0 L422.9,281.1 L423.2,281.2 L423.5,281.3 L423.8,281.4 L424.1,281.5 L424.4,281.6 L424.7,281.7 L425.0,281.8 L425.3,281.9 L425.6,282.0 L425.9,282.1 L426.2,282.2 L426.5,282.3 L426.8,282.4 L427.1,282.5 L427.4,282.6 L427.7,282.7 L428.0,282.7 L428.3,282.8 L428.6,282.9 L428.9,283.0 L429.2,283.1 L429.5,283.2 L429.9,283.3 L430.2,283.4 L430.5,283.5 L430.8,283.6 L431.1,283.7 L431.4,283.8 L431.7,283.9 L432.0,284.0 L432.3,284.1 L432.6,284.2 L432.9,284.3 L433.2,284.4 L433.6,284.5 L433.9,284.5 L434.2,284.6 L434.5,284.7 L434.8,284.8 L435.1,284.9 L435.4,285.0 L435.7,285.1 L436.1,285.2 L436.4,285.3 L436.7,285.4 L437.0,285.5 L437.3,285.6 L437.6,285.7 L437.9,285.8 L438.2,285.9 L438.6,286.0 L438.9,286.1 L439.2,286.1 L439.5,286.2 L439.8,286.3 L440.1,286.4 L440.5,286.5 L440.8,286.6 L441.1,286.7 L441.4,286.8 L441.7,286.9 L442.0,287.0 L442.4,287.1 L442.7,287.2 L443.0,287.3 L443.3,287.4 L443.6,287.5 L443.9,287.6 L444.3,287.6 L444.6,287.7 L444.9,287.8 L445.2,287.9 L445.5,288.0 L445.9,288.1 L446.2,288.2 L446.5,288.3 L446.8,288.4 L447.1,288.5 L447.5,288.6 L447.8,288.7 L448.1,288.8 L448.4,288.9 L448.7,289.0 L449.1,289.0 L449.4,289.1 L449.7,289.2 L450.0,289.3 L450.4,289.4 L450.7,289.5 L451.0,289.6 L451.3,289.7 L451.6,289.8 L452.0,289.9 L452.3,290.0 L452.6,290.1 L452.9,290.2 L453.3,290.3 L453.6,290.4 L453.9,290.4 L454.2,290.5 L454.6,290.6 L454.9,290.7 L455.2,290.8 L455.5,290.9 L455.9,291.0 L456.2,291.1 L456.5,291.2 L456.8,291.3 L457.2,291.4 L457.5,291.5 L457.8,291.6 L458.1,291.7 L458.5,291.7 L458.8,291.8 L459.1,291.9 L459.5,292.0 L459.8,292.1 L460.1,292.2 L460.4,292.3 L460.8,292.4 L461.1,292.5 L461.4,292.6 L461.7,292.7 L462.1,292.8 L462.4,292.9 L462.7,292.9 L463.1,293.0 L463.4,293.1 L463.7,293.2 L464.1,293.3 L464.4,293.4 L464.7,293.5 L465.0,293.6 L465.4,293.7 L465.7,293.8 L466.0,293.9 L466.4,294.0 L466.7,294.1 L467.0,294.1 L467.4,294.2 L467.7,294.3 L468.0,294.4 L468.3,294.5 L468.7,294.6 L469.0,294.7" fill="none" stroke="#00b040" stroke-width="1.3"/>
<path d="M464.0,276.5 L464.2,276.6 L464.4,276.7 L464.7,276.8 L464.9,276.9 L465.2,277.0 L465.4,277.1 L465.7,277.2 L465.9,277.3 L466.1,277.4 L466.4,277.5 L466.6,277.7 L466.9,277.8 L467.1,277.9 L467.4,278.0 L467.6,278.1 L467.8,278.2 L468.1,278.3 L468.3,278.4 L468.6,278.5 L468.8,278.6 L469.1,278.7 L469.3,278.8 L469.6,278.9 L469.8,279.0 L470.1,279.1 L470.3,279.2 L470.6,279.3 L470.8,279.4 L471.1,279.5 L471.4,279.6 L471.6,279.7 L471.9,279.9 L472.1,280.0 L472.4,280.1 L472.6,280.2 L472.9,280.3 L473.1,280.4 L473.4,280.5 L473.7,280.6 L473.9,280.7 L474.2,280.8 L474.4,280.9 L474.7,281.0 L475.0,281.1 L475.2,281.2 L475.5,281.3 L475.7,281.4 L476.0,281.5 L476.3,281.6 L476.5,281.7 L476.8,281.8 L477.1,281.9 L477.3,282.0 L477.6,282.1 L477.8,282.2 L478.1,282.3 L478.4,282.4 L478.6,282.5 L478.9,282.6 L479.2,282.7 L479.4,282.8 L479.7,282.9 L480.0,283.0 L480.2,283.1 L480.5,283.2 L480.8,283.3 L481.1,283.4 L481.3,283.6 L481.6,283.7 L481.9,283.8 L482.1,283.9 L482.4,284.0 L482.7,284.1 L483.0,284.2 L483.2,284.3 L483.5,284.4 L483.8,284.5 L484.0,284.6 L484.3,284.7 L484.6,284.8 L484.9,284.9 L485.1,285.0 L485.4,285.1 L485.7,285.2 L486.0,285.3 L486.2,285.4 L486.5,285.5 L486.8,285.6 L487.1,285.7 L487.4,285.8 L487.6,285.9 L487.9,286.0 L488.2,286.1 L488.5,286.2 L488.8,286.3 L489.0,286.4 L489.3,286.5 L489.6,286.6 L489.9,286.7 L490.2,286.8 L490.4,286.9 L490.7,287.0 L491.0,287.1 L491.3,287.2 L491.6,287.3 L491.8,287.4 L492.1,287.5 L492.4,287.6 L492.7,287.7 L493.0,287.8 L493.3,287.9 L493.6,288.0 L493.8,288.1" fill="none" stroke="#e0b020" stroke-width="1.3"/>
<path d="M290.4,285.2 L282.5,200.9 M397.5,262.3 L397.5,185.4 M310.4,259.8 L305.8,197.8 M419.0,247.0 L420.1,188.5 M332.4,255.5 L329.1,194.7 M440.7,251.3 L442.9,191.5 M354.3,251.3 L352.1,191.5 M462.6,255.5 L465.9,194.7 M376.0,247.0 L374.9,188.5 M484.6,259.8 L489.2,197.8 M397.5,262.3 L397.5,185.4 M504.6,285.2 L512.5,200.9 M288.4,264.0 L397.5,242.9 L506.6,264.0 M287.3,251.9 L397.5,231.8 L507.7,251.9 M286.1,239.6 L397.5,220.5 L508.9,239.6 M284.9,227.0 L397.5,209.1 L510.1,227.0 M283.7,214.1 L397.5,197.4 L511.3,214.1 M282.5,200.9 L397.5,185.4 L512.5,200.9" fill="none" stroke="#1c1c1c" stroke-width="1.15"/>
<path d="M290.4,285.2 L397.5,313.8 L504.6,285.2" fill="none" stroke="#1c1c1c" stroke-width="1.2"/>
<g stroke="#000" stroke-opacity="0.6" stroke-width="0.5" stroke-linejoin="round">
<polygon points="397.5,208.0 402.5,206.1 397.5,205.9 392.5,207.7" fill="#72ff17"/>
<polygon points="392.5,209.8 397.5,208.0 392.5,207.7 387.5,209.5" fill="#5bff17"/>
<polygon points="402.5,208.2 407.6,206.2 402.5,206.1 397.5,208.0" fill="#81ff1b"/>
<polygon points="387.4,211.7 392.5,209.8 387.5,209.5 382.4,211.4" fill="#45ff18"/>
<polygon points="397.5,210.1 402.5,208.2 397.5,208.0 392.5,209.8" fill="#69ff1b"/>
<polygon points="407.6,208.4 412.6,206.4 407.6,206.2 402.5,208.2" fill="#91ff1f"/>
<polygon points="382.4,213.6 387.4,211.7 382.4,211.4 377.4,213.2" fill="#30ff19"/>
<polygon points="392.5,212.1 397.5,210.1 392.5,209.8 387.4,211.7" fill="#52ff1c"/>
<polygon points="402.5,210.4 407.6,208.4 402.5,208.2 397.5,210.1" fill="#78ff1f"/>
<polygon points="412.7,208.6 417.7,206.5 412.6,206.4 407.6,208.4" fill="#a0ff23"/>
<polygon points="377.4,215.5 382.4,213.6 377.4,213.2 372.4,215.0" fill="#1dff1a"/>
<polygon points="387.4,214.1 392.5,212.1 387.4,211.7 382.4,213.6" fill="#3cff1d"/>
<polygon points="397.5,212.4 402.5,210.4 397.5,210.1 392.5,212.1" fill="#5fff20"/>
<polygon points="407.6,210.7 412.7,208.6 407.6,208.4 402.5,210.4" fill="#86ff23"/>
<polygon points="417.7,208.8 422.8,206.7 417.7,206.5 412.7,208.6" fill="#afff26"/>
<polygon points="372.3,217.4 377.4,215.5 372.4,215.0 367.3,216.9" fill="#1aff25"/>
<polygon points="382.4,216.0 387.4,214.1 382.4,213.6 377.4,215.5" fill="#27ff1d"/>
<polygon points="392.5,214.5 397.5,212.4 392.5,212.1 387.4,214.1" fill="#48ff21"/>
<polygon points="402.6,212.8 407.6,210.7 402.5,210.4 397.5,212.4" fill="#6cff24"/>
<polygon points="412.7,211.0 417.7,208.8 412.7,208.6 407.6,210.7" fill="#93ff27"/>
<polygon points="422.9,209.0 427.9,206.8 422.8,206.7 417.7,208.8" fill="#bdff2a"/>
<polygon points="367.3,219.4 372.3,217.4 367.3,216.9 362.3,218.7" fill="#1bff38"/>
<polygon points="377.3,218.0 382.4,216.0 377.4,215.5 372.3,217.4" fill="#1eff24"/>
<polygon points="387.4,216.5 392.5,214.5 387.4,214.1 382.4,216.0" fill="#31ff21"/>
<polygon points="397.5,214.9 402.6,212.8 397.5,212.4 392.5,214.5" fill="#53ff25"/>
<polygon points="407.6,213.2 412.7,211.0 407.6,210.7 402.6,212.8" fill="#79ff28"/>
<polygon points="417.8,211.3 422.9,209.0 417.7,208.8 412.7,211.0" fill="#a1ff2b"/>
<polygon points="428.0,209.2 433.0,207.0 427.9,206.8 422.9,209.0" fill="#cbff2e"/>
<polygon points="362.2,221.3 367.3,219.4 362.3,218.7 357.3,220.6" fill="#1cff4e"/>
<polygon points="372.3,220.0 377.3,218.0 372.3,217.4 367.3,219.4" fill="#1fff37"/>
<polygon points="382.3,218.6 387.4,216.5 382.4,216.0 377.3,218.0" fill="#22ff24"/>
<polygon points="392.4,217.0 397.5,214.9 392.5,214.5 387.4,216.5" fill="#3cff25"/>
<polygon points="402.6,215.3 407.6,213.2 402.6,212.8 397.5,214.9" fill="#5fff29"/>
<polygon points="412.7,213.5 417.8,211.3 412.7,211.0 407.6,213.2" fill="#85ff2c"/>
<polygon points="422.9,211.5 428.0,209.2 422.9,209.0 417.8,211.3" fill="#aeff2f"/>
<polygon points="433.1,209.4 438.2,207.1 433.0,207.0 428.0,209.2" fill="#d9ff32"/>
<polygon points="357.2,223.3 362.2,221.3 357.3,220.6 352.2,222.5" fill="#1cff64"/>
<polygon points="367.2,222.0 372.3,220.0 367.3,219.4 362.2,221.3" fill="#20ff4d"/>
<polygon points="377.3,220.7 382.3,218.6 377.3,218.0 372.3,220.0" fill="#23ff36"/>
<polygon points="387.4,219.2 392.4,217.0 387.4,216.5 382.3,218.6" fill="#27ff26"/>
<polygon points="397.5,217.5 402.6,215.3 397.5,214.9 392.4,217.0" fill="#46ff29"/>
<polygon points="407.6,215.8 412.7,213.5 407.6,213.2 402.6,215.3" fill="#6aff2d"/>
<polygon points="417.8,213.9 422.9,211.5 417.8,211.3 412.7,213.5" fill="#91ff30"/>
<polygon points="428.0,211.8 433.1,209.4 428.0,209.2 422.9,211.5" fill="#bbff33"/>
<polygon points="438.3,209.6 443.4,207.2 438.2,207.1 433.1,209.4" fill="#e6ff36"/>
<polygon points="352.1,225.2 357.2,223.3 352.2,222.5 347.2,224.4" fill="#1dff7c"/>
<polygon points="362.2,224.0 367.2,222.0 362.2,221.3 357.2,223.3" fill="#20ff64"/>
<polygon points="372.2,222.7 377.3,220.7 372.3,220.0 367.2,222.0" fill="#23ff4c"/>
<polygon points="382.3,221.3 387.4,219.2 382.3,218.6 377.3,220.7" fill="#27ff36"/>
<polygon points="392.4,219.7 397.5,217.5 392.4,217.0 387.4,219.2" fill="#30ff2a"/>
<polygon points="402.6,218.0 407.6,215.8 402.6,215.3 397.5,217.5" fill="#51ff2d"/>
<polygon points="412.7,216.2 417.8,213.9 412.7,213.5 407.6,215.8" fill="#75ff30"/>
<polygon points="422.9,214.2 428.0,211.8 422.9,211.5 417.8,213.9" fill="#9dff34"/>
<polygon points="433.2,212.1 438.3,209.6 433.1,209.4 428.0,211.8" fill="#c7ff37"/>
<polygon points="443.4,209.8 448.5,207.3 443.4,207.2 438.3,209.6" fill="#f3ff3a"/>
<polygon points="347.1,227.2 352.1,225.2 347.2,224.4 342.1,226.3" fill="#1eff95"/>
<polygon points="357.1,226.1 362.2,224.0 357.2,223.3 352.1,225.2" fill="#21ff7c"/>
<polygon points="367.2,224.8 372.2,222.7 367.2,222.0 362.2,224.0" fill="#24ff64"/>
<polygon points="377.3,223.5 382.3,221.3 377.3,220.7 372.2,222.7" fill="#27ff4b"/>
<polygon points="387.4,222.0 392.4,219.7 387.4,219.2 382.3,221.3" fill="#2bff35"/>
<polygon points="397.5,220.3 402.6,218.0 397.5,217.5 392.4,219.7" fill="#39ff2e"/>
<polygon points="407.7,218.5 412.7,216.2 407.6,215.8 402.6,218.0" fill="#5bff31"/>
<polygon points="417.9,216.6 422.9,214.2 417.8,213.9 412.7,216.2" fill="#80ff34"/>
<polygon points="428.1,214.6 433.2,212.1 428.0,211.8 422.9,214.2" fill="#a9ff38"/>
<polygon points="438.3,212.4 443.4,209.8 438.3,209.6 433.2,212.1" fill="#d3ff3b"/>
<polygon points="448.6,210.0 453.7,207.4 448.5,207.3 443.4,209.8" fill="#ffff3e"/>
<polygon points="342.0,229.2 347.1,227.2 342.1,226.3 337.1,228.2" fill="#1effae"/>
<polygon points="352.1,228.1 357.1,226.1 352.1,225.2 347.1,227.2" fill="#22ff96"/>
<polygon points="362.1,226.9 367.2,224.8 362.2,224.0 357.1,226.1" fill="#25ff7d"/>
<polygon points="372.2,225.6 377.3,223.5 372.2,222.7 367.2,224.8" fill="#28ff64"/>
<polygon points="382.3,224.2 387.4,222.0 382.3,221.3 377.3,223.5" fill="#2bff4b"/>
<polygon points="392.4,222.6 397.5,220.3 392.4,219.7 387.4,222.0" fill="#2fff35"/>
<polygon points="402.6,220.9 407.7,218.5 402.6,218.0 397.5,220.3" fill="#42ff32"/>
<polygon points="412.8,219.0 417.9,216.6 412.7,216.2 407.7,218.5" fill="#65ff35"/>
<polygon points="423.0,217.0 428.1,214.6 422.9,214.2 417.9,216.6" fill="#8bff38"/>
<polygon points="433.2,214.9 438.3,212.4 433.2,212.1 428.1,214.6" fill="#b4ff3c"/>
<polygon points="443.5,212.6 448.6,210.0 443.4,209.8 438.3,212.4" fill="#dfff3f"/>
<polygon points="453.8,210.2 458.9,207.6 453.7,207.4 448.6,210.0" fill="#fff442"/>
<polygon points="337.0,231.1 342.0,229.2 337.1,228.2 332.1,230.1" fill="#1fffc8"/>
<polygon points="347.0,230.2 352.1,228.1 347.1,227.2 342.0,229.2" fill="#22ffb0"/>
<polygon points="357.1,229.0 362.1,226.9 357.1,226.1 352.1,228.1" fill="#26ff97"/>
<polygon points="367.1,227.8 372.2,225.6 367.2,224.8 362.1,226.9" fill="#29ff7d"/>
<polygon points="377.2,226.4 382.3,224.2 377.3,223.5 372.2,225.6" fill="#2cff64"/>
<polygon points="387.3,224.9 392.4,222.6 387.4,222.0 382.3,224.2" fill="#2fff4b"/>
<polygon points="397.5,223.2 402.6,220.9 397.5,220.3 392.4,222.6" fill="#33ff36"/>
<polygon points="407.7,221.4 412.8,219.0 407.7,218.5 402.6,220.9" fill="#4bff36"/>
<polygon points="417.9,219.5 423.0,217.0 417.9,216.6 412.8,219.0" fill="#6fff39"/>
<polygon points="428.1,217.4 433.2,214.9 428.1,214.6 423.0,217.0" fill="#96ff3c"/>
<polygon points="438.4,215.2 443.5,212.6 438.3,212.4 433.2,214.9" fill="#bfff40"/>
<polygon points="448.7,212.9 453.8,210.2 448.6,210.0 443.5,212.6" fill="#eaff43"/>
<polygon points="459.0,210.4 464.2,207.7 458.9,207.6 453.8,210.2" fill="#ffe946"/>
<polygon points="332.0,233.1 337.0,231.1 332.1,230.1 327.0,232.0" fill="#20ffe2"/>
<polygon points="342.0,232.2 347.0,230.2 342.0,229.2 337.0,231.1" fill="#23ffcb"/>
<polygon points="352.0,231.2 357.1,229.0 352.1,228.1 347.0,230.2" fill="#26ffb2"/>
<polygon points="362.1,230.0 367.1,227.8 362.1,226.9 357.1,229.0" fill="#29ff98"/>
<polygon points="372.2,228.7 377.2,226.4 372.2,225.6 367.1,227.8" fill="#2dff7e"/>
<polygon points="382.3,227.2 387.3,224.9 382.3,224.2 377.2,226.4" fill="#30ff64"/>
<polygon points="392.4,225.6 397.5,223.2 392.4,222.6 387.3,224.9" fill="#33ff4b"/>
<polygon points="402.6,223.9 407.7,221.4 402.6,220.9 397.5,223.2" fill="#36ff37"/>
<polygon points="412.8,222.0 417.9,219.5 412.8,219.0 407.7,221.4" fill="#54ff3a"/>
<polygon points="423.0,220.0 428.1,217.4 423.0,217.0 417.9,219.5" fill="#79ff3d"/>
<polygon points="433.3,217.9 438.4,215.2 433.2,214.9 428.1,217.4" fill="#a0ff40"/>
<polygon points="443.6,215.6 448.7,212.9 443.5,212.6 438.4,215.2" fill="#c9ff43"/>
<polygon points="453.9,213.1 459.0,210.4 453.8,210.2 448.7,212.9" fill="#f5ff47"/>
<polygon points="464.3,210.6 469.4,207.8 464.2,207.7 459.0,210.4" fill="#ffdf4a"/>
<polygon points="326.9,235.1 332.0,233.1 327.0,232.0 322.0,233.9" fill="#20fffd"/>
<polygon points="336.9,234.3 342.0,232.2 337.0,231.1 332.0,233.1" fill="#24ffe6"/>
<polygon points="347.0,233.3 352.0,231.2 347.0,230.2 342.0,232.2" fill="#27ffce"/>
<polygon points="357.0,232.2 362.1,230.0 357.1,229.0 352.0,231.2" fill="#2affb4"/>
<polygon points="367.1,230.9 372.2,228.7 367.1,227.8 362.1,230.0" fill="#2dff9a"/>
<polygon points="377.2,229.5 382.3,227.2 377.2,226.4 372.2,228.7" fill="#31ff7f"/>
<polygon points="387.3,228.0 392.4,225.6 387.3,224.9 382.3,227.2" fill="#34ff64"/>
<polygon points="397.5,226.3 402.6,223.9 397.5,223.2 392.4,225.6" fill="#37ff4b"/>
<polygon points="407.7,224.5 412.8,222.0 407.7,221.4 402.6,223.9" fill="#3cff3a"/>
<polygon points="417.9,222.6 423.0,220.0 417.9,219.5 412.8,222.0" fill="#5dff3e"/>
<polygon points="428.2,220.5 433.3,217.9 428.1,217.4 423.0,220.0" fill="#82ff41"/>
<polygon points="438.5,218.3 443.6,215.6 438.4,215.2 433.3,217.9" fill="#aaff44"/>
<polygon points="448.8,215.9 453.9,213.1 448.7,212.9 443.6,215.6" fill="#d4ff47"/>
<polygon points="459.1,213.4 464.3,210.6 459.0,210.4 453.9,213.1" fill="#ffff4b"/>
<polygon points="469.5,210.7 474.7,207.9 469.4,207.8 464.3,210.6" fill="#ffd64e"/>
<polygon points="321.9,237.1 326.9,235.1 322.0,233.9 316.9,235.8" fill="#21f1ff"/>
<polygon points="331.9,236.4 336.9,234.3 332.0,233.1 326.9,235.1" fill="#24fdff"/>
<polygon points="341.9,235.4 347.0,233.3 342.0,232.2 336.9,234.3" fill="#28ffea"/>
<polygon points="351.9,234.4 357.0,232.2 352.0,231.2 347.0,233.3" fill="#2bffd1"/>
<polygon points="362.0,233.2 367.1,230.9 362.1,230.0 357.0,232.2" fill="#2effb6"/>
<polygon points="372.1,231.9 377.2,229.5 372.2,228.7 367.1,230.9" fill="#31ff9b"/>
<polygon points="382.3,230.4 387.3,228.0 382.3,227.2 377.2,229.5" fill="#35ff7f"/>
<polygon points="392.4,228.8 397.5,226.3 392.4,225.6 387.3,228.0" fill="#38ff65"/>
<polygon points="402.6,227.1 407.7,224.5 402.6,223.9 397.5,226.3" fill="#3bff4c"/>
<polygon points="412.8,225.2 417.9,222.6 412.8,222.0 407.7,224.5" fill="#44ff3e"/>
<polygon points="423.1,223.2 428.2,220.5 423.0,220.0 417.9,222.6" fill="#66ff42"/>
<polygon points="433.3,221.0 438.5,218.3 433.3,217.9 428.2,220.5" fill="#8bff45"/>
<polygon points="443.7,218.7 448.8,215.9 443.6,215.6 438.5,218.3" fill="#b3ff48"/>
<polygon points="454.0,216.2 459.1,213.4 453.9,213.1 448.8,215.9" fill="#deff4b"/>
<polygon points="464.4,213.6 469.5,210.7 464.3,210.6 459.1,213.4" fill="#fff54f"/>
<polygon points="474.8,210.9 479.9,207.9 474.7,207.9 469.5,210.7" fill="#ffcd52"/>
<polygon points="316.9,239.2 321.9,237.1 316.9,235.8 311.9,237.8" fill="#22e2ff"/>
<polygon points="326.8,238.4 331.9,236.4 326.9,235.1 321.9,237.1" fill="#25eeff"/>
<polygon points="336.9,237.6 341.9,235.4 336.9,234.3 331.9,236.4" fill="#28fbff"/>
<polygon points="346.9,236.6 351.9,234.4 347.0,233.3 341.9,235.4" fill="#2cffee"/>
<polygon points="357.0,235.5 362.0,233.2 357.0,232.2 351.9,234.4" fill="#2fffd4"/>
<polygon points="367.1,234.2 372.1,231.9 367.1,230.9 362.0,233.2" fill="#32ffb8"/>
<polygon points="377.2,232.8 382.3,230.4 377.2,229.5 372.1,231.9" fill="#35ff9c"/>
<polygon points="387.3,231.3 392.4,228.8 387.3,228.0 382.3,230.4" fill="#39ff80"/>
<polygon points="397.5,229.6 402.6,227.1 397.5,226.3 392.4,228.8" fill="#3cff65"/>
<polygon points="407.7,227.8 412.8,225.2 407.7,224.5 402.6,227.1" fill="#3fff4d"/>
<polygon points="417.9,225.8 423.1,223.2 417.9,222.6 412.8,225.2" fill="#4cff42"/>
<polygon points="428.2,223.7 433.3,221.0 428.2,220.5 423.1,223.2" fill="#6eff46"/>
<polygon points="438.5,221.5 443.7,218.7 438.5,218.3 433.3,221.0" fill="#94ff49"/>
<polygon points="448.9,219.1 454.0,216.2 448.8,215.9 443.7,218.7" fill="#bdff4c"/>
<polygon points="459.2,216.6 464.4,213.6 459.1,213.4 454.0,216.2" fill="#e7ff4f"/>
<polygon points="469.6,213.9 474.8,210.9 469.5,210.7 464.4,213.6" fill="#ffed53"/>
<polygon points="480.1,211.1 485.2,208.0 479.9,207.9 474.8,210.9" fill="#ffc456"/>
<polygon points="311.8,241.2 316.9,239.2 311.9,237.8 306.9,239.7" fill="#23d2ff"/>
<polygon points="321.8,240.5 326.8,238.4 321.9,237.1 316.9,239.2" fill="#26deff"/>
<polygon points="331.8,239.7 336.9,237.6 331.9,236.4 326.8,238.4" fill="#29ebff"/>
<polygon points="341.8,238.8 346.9,236.6 341.9,235.4 336.9,237.6" fill="#2cf8ff"/>
<polygon points="351.9,237.8 357.0,235.5 351.9,234.4 346.9,236.6" fill="#30fff2"/>
<polygon points="362.0,236.6 367.1,234.2 362.0,233.2 357.0,235.5" fill="#33ffd6"/>
<polygon points="372.1,235.2 377.2,232.8 372.1,231.9 367.1,234.2" fill="#36ffba"/>
<polygon points="382.2,233.8 387.3,231.3 382.3,230.4 377.2,232.8" fill="#39ff9d"/>
<polygon points="392.4,232.1 397.5,229.6 392.4,228.8 387.3,231.3" fill="#3dff81"/>
<polygon points="402.6,230.4 407.7,227.8 402.6,227.1 397.5,229.6" fill="#40ff66"/>
<polygon points="412.8,228.5 417.9,225.8 412.8,225.2 407.7,227.8" fill="#43ff4e"/>
<polygon points="423.1,226.5 428.2,223.7 423.1,223.2 417.9,225.8" fill="#53ff46"/>
<polygon points="433.4,224.3 438.5,221.5 433.3,221.0 428.2,223.7" fill="#77ff49"/>
<polygon points="443.7,222.0 448.9,219.1 443.7,218.7 438.5,221.5" fill="#9dff4d"/>
<polygon points="454.1,219.5 459.2,216.6 454.0,216.2 448.9,219.1" fill="#c6ff50"/>
<polygon points="464.5,216.9 469.6,213.9 464.4,213.6 459.2,216.6" fill="#f0ff53"/>
<polygon points="474.9,214.1 480.1,211.1 474.8,210.9 469.6,213.9" fill="#ffe456"/>
<polygon points="485.3,211.2 490.5,208.1 485.2,208.0 480.1,211.1" fill="#ffbc5a"/>
<polygon points="306.8,243.2 311.8,241.2 306.9,239.7 301.9,241.7" fill="#23c1ff"/>
<polygon points="316.8,242.6 321.8,240.5 316.9,239.2 311.8,241.2" fill="#26cdff"/>
<polygon points="326.8,241.9 331.8,239.7 326.8,238.4 321.8,240.5" fill="#2adaff"/>
<polygon points="336.8,241.1 341.8,238.8 336.9,237.6 331.8,239.7" fill="#2de7ff"/>
<polygon points="346.8,240.1 351.9,237.8 346.9,236.6 341.8,238.8" fill="#30f6ff"/>
<polygon points="356.9,238.9 362.0,236.6 357.0,235.5 351.9,237.8" fill="#33fff5"/>
<polygon points="367.0,237.7 372.1,235.2 367.1,234.2 362.0,236.6" fill="#37ffd9"/>
<polygon points="377.1,236.3 382.2,233.8 377.2,232.8 372.1,235.2" fill="#3affbc"/>
<polygon points="387.3,234.7 392.4,232.1 387.3,231.3 382.2,233.8" fill="#3dff9f"/>
<polygon points="397.5,233.0 402.6,230.4 397.5,229.6 392.4,232.1" fill="#40ff82"/>
<polygon points="407.7,231.2 412.8,228.5 407.7,227.8 402.6,230.4" fill="#44ff67"/>
<polygon points="418.0,229.2 423.1,226.5 417.9,225.8 412.8,228.5" fill="#47ff4f"/>
<polygon points="428.3,227.1 433.4,224.3 428.2,223.7 423.1,226.5" fill="#5bff4a"/>
<polygon points="438.6,224.8 443.7,222.0 438.5,221.5 433.4,224.3" fill="#7fff4d"/>
<polygon points="448.9,222.4 454.1,219.5 448.9,219.1 443.7,222.0" fill="#a6ff51"/>
<polygon points="459.3,219.9 464.5,216.9 459.2,216.6 454.1,219.5" fill="#cfff54"/>
<polygon points="469.7,217.2 474.9,214.1 469.6,213.9 464.5,216.9" fill="#f9ff57"/>
<polygon points="480.2,214.4 485.3,211.2 480.1,211.1 474.9,214.1" fill="#ffdc5a"/>
<polygon points="490.6,211.4 495.8,208.2 490.5,208.1 485.3,211.2" fill="#ffb45e"/>
<polygon points="301.8,245.3 306.8,243.2 301.9,241.7 296.9,243.7" fill="#24b0ff"/>
<polygon points="311.7,244.7 316.8,242.6 311.8,241.2 306.8,243.2" fill="#27bbff"/>
<polygon points="321.7,244.1 326.8,241.9 321.8,240.5 316.8,242.6" fill="#2ac8ff"/>
<polygon points="331.7,243.3 336.8,241.1 331.8,239.7 326.8,241.9" fill="#2ed6ff"/>
<polygon points="341.8,242.4 346.8,240.1 341.8,238.8 336.8,241.1" fill="#31e4ff"/>
<polygon points="351.9,241.3 356.9,238.9 351.9,237.8 346.8,240.1" fill="#34f3ff"/>
<polygon points="361.9,240.1 367.0,237.7 362.0,236.6 356.9,238.9" fill="#37fff9"/>
<polygon points="372.1,238.8 377.1,236.3 372.1,235.2 367.0,237.7" fill="#3bffdb"/>
<polygon points="382.2,237.3 387.3,234.7 382.2,233.8 377.1,236.3" fill="#3effbe"/>
<polygon points="392.4,235.7 397.5,233.0 392.4,232.1 387.3,234.7" fill="#41ffa0"/>
<polygon points="402.6,233.9 407.7,231.2 402.6,230.4 397.5,233.0" fill="#44ff83"/>
<polygon points="412.8,232.0 418.0,229.2 412.8,228.5 407.7,231.2" fill="#48ff68"/>
<polygon points="423.1,229.9 428.3,227.1 423.1,226.5 418.0,229.2" fill="#4bff50"/>
<polygon points="433.4,227.8 438.6,224.8 433.4,224.3 428.3,227.1" fill="#62ff4e"/>
<polygon points="443.8,225.4 448.9,222.4 443.7,222.0 438.6,224.8" fill="#87ff51"/>
<polygon points="454.1,222.9 459.3,219.9 454.1,219.5 448.9,222.4" fill="#aeff55"/>
<polygon points="464.5,220.3 469.7,217.2 464.5,216.9 459.3,219.9" fill="#d7ff58"/>
<polygon points="475.0,217.5 480.2,214.4 474.9,214.1 469.7,217.2" fill="#fffc5b"/>
<polygon points="485.4,214.6 490.6,211.4 485.3,211.2 480.2,214.4" fill="#ffd55e"/>
<polygon points="495.9,211.5 501.2,208.2 495.8,208.2 490.6,211.4" fill="#ffad62"/>
<polygon points="296.8,247.3 301.8,245.3 296.9,243.7 291.8,245.6" fill="#259dff"/>
<polygon points="306.7,246.9 311.7,244.7 306.8,243.2 301.8,245.3" fill="#28a9ff"/>
<polygon points="316.7,246.3 321.7,244.1 316.8,242.6 311.7,244.7" fill="#2bb6ff"/>
<polygon points="326.7,245.6 331.7,243.3 326.8,241.9 321.7,244.1" fill="#2ec3ff"/>
<polygon points="336.7,244.7 341.8,242.4 336.8,241.1 331.7,243.3" fill="#32d2ff"/>
<polygon points="346.8,243.7 351.9,241.3 346.8,240.1 341.8,242.4" fill="#35e1ff"/>
<polygon points="356.9,242.6 361.9,240.1 356.9,238.9 351.9,241.3" fill="#38f1ff"/>
<polygon points="367.0,241.3 372.1,238.8 367.0,237.7 361.9,240.1" fill="#3bfffc"/>
<polygon points="377.1,239.9 382.2,237.3 377.1,236.3 372.1,238.8" fill="#3fffde"/>
<polygon points="387.3,238.3 392.4,235.7 387.3,234.7 382.2,237.3" fill="#42ffc0"/>
<polygon points="397.5,236.6 402.6,233.9 397.5,233.0 392.4,235.7" fill="#45ffa2"/>
<polygon points="407.7,234.8 412.8,232.0 407.7,231.2 402.6,233.9" fill="#48ff84"/>
<polygon points="418.0,232.8 423.1,229.9 418.0,229.2 412.8,232.0" fill="#4cff69"/>
<polygon points="428.3,230.7 433.4,227.8 428.3,227.1 423.1,229.9" fill="#4fff52"/>
<polygon points="438.6,228.4 443.8,225.4 438.6,224.8 433.4,227.8" fill="#6aff52"/>
<polygon points="449.0,226.0 454.1,222.9 448.9,222.4 443.8,225.4" fill="#8fff55"/>
<polygon points="459.4,223.4 464.5,220.3 459.3,219.9 454.1,222.9" fill="#b6ff59"/>
<polygon points="469.8,220.7 475.0,217.5 469.7,217.2 464.5,220.3" fill="#dfff5c"/>
<polygon points="480.2,217.8 485.4,214.6 480.2,214.4 475.0,217.5" fill="#fff55f"/>
<polygon points="490.7,214.8 495.9,211.5 490.6,211.4 485.4,214.6" fill="#ffce62"/>
<polygon points="501.3,211.7 506.5,208.3 501.2,208.2 495.9,211.5" fill="#ffa666"/>
<polygon points="291.8,249.4 296.8,247.3 291.8,245.6 286.8,247.6" fill="#2588ff"/>
<polygon points="301.7,249.0 306.7,246.9 301.8,245.3 296.8,247.3" fill="#2994ff"/>
<polygon points="311.7,248.5 316.7,246.3 311.7,244.7 306.7,246.9" fill="#2ca2ff"/>
<polygon points="321.7,247.8 326.7,245.6 321.7,244.1 316.7,246.3" fill="#2fb0ff"/>
<polygon points="331.7,247.0 336.7,244.7 331.7,243.3 326.7,245.6" fill="#32bfff"/>
<polygon points="341.7,246.1 346.8,243.7 341.8,242.4 336.7,244.7" fill="#36ceff"/>
<polygon points="351.8,245.0 356.9,242.6 351.9,241.3 346.8,243.7" fill="#39deff"/>
<polygon points="361.9,243.8 367.0,241.3 361.9,240.1 356.9,242.6" fill="#3cefff"/>
<polygon points="372.0,242.5 377.1,239.9 372.1,238.8 367.0,241.3" fill="#3fffff"/>
<polygon points="382.2,241.0 387.3,238.3 382.2,237.3 377.1,239.9" fill="#43ffe0"/>
<polygon points="392.4,239.4 397.5,236.6 392.4,235.7 387.3,238.3" fill="#46ffc2"/>
<polygon points="402.6,237.6 407.7,234.8 402.6,233.9 397.5,236.6" fill="#49ffa3"/>
<polygon points="412.9,235.7 418.0,232.8 412.8,232.0 407.7,234.8" fill="#4cff85"/>
<polygon points="423.1,233.6 428.3,230.7 423.1,229.9 418.0,232.8" fill="#50ff6a"/>
<polygon points="433.5,231.4 438.6,228.4 433.4,227.8 428.3,230.7" fill="#53ff54"/>
<polygon points="443.8,229.0 449.0,226.0 443.8,225.4 438.6,228.4" fill="#71ff56"/>
<polygon points="454.2,226.5 459.4,223.4 454.1,222.9 449.0,226.0" fill="#96ff59"/>
<polygon points="464.6,223.9 469.8,220.7 464.5,220.3 459.4,223.4" fill="#beff5c"/>
<polygon points="475.0,221.1 480.2,217.8 475.0,217.5 469.8,220.7" fill="#e7ff60"/>
<polygon points="485.5,218.1 490.7,214.8 485.4,214.6 480.2,217.8" fill="#ffee63"/>
<polygon points="496.0,215.0 501.3,211.7 495.9,211.5 490.7,214.8" fill="#ffc766"/>
<polygon points="506.6,211.8 511.8,208.3 506.5,208.3 501.3,211.7" fill="#ffa069"/>
<polygon points="296.7,251.1 301.7,249.0 296.8,247.3 291.8,249.4" fill="#297eff"/>
<polygon points="306.7,250.7 311.7,248.5 306.7,246.9 301.7,249.0" fill="#2d8cff"/>
<polygon points="316.7,250.1 321.7,247.8 316.7,246.3 311.7,248.5" fill="#309bff"/>
<polygon points="326.7,249.4 331.7,247.0 326.7,245.6 321.7,247.8" fill="#33aaff"/>
<polygon points="336.7,248.5 341.7,246.1 336.7,244.7 331.7,247.0" fill="#36baff"/>
<polygon points="346.8,247.5 351.8,245.0 346.8,243.7 341.7,246.1" fill="#39cbff"/>
<polygon points="356.9,246.4 361.9,243.8 356.9,242.6 351.8,245.0" fill="#3ddcff"/>
<polygon points="367.0,245.1 372.0,242.5 367.0,241.3 361.9,243.8" fill="#40ecff"/>
<polygon points="377.1,243.7 382.2,241.0 377.1,239.9 372.0,242.5" fill="#43fdff"/>
<polygon points="387.3,242.1 392.4,239.4 387.3,238.3 382.2,241.0" fill="#46ffe3"/>
<polygon points="397.5,240.4 402.6,237.6 397.5,236.6 392.4,239.4" fill="#4affc3"/>
<polygon points="407.7,238.5 412.9,235.7 407.7,234.8 402.6,237.6" fill="#4dffa4"/>
<polygon points="418.0,236.5 423.1,233.6 418.0,232.8 412.9,235.7" fill="#50ff87"/>
<polygon points="428.3,234.4 433.5,231.4 428.3,230.7 423.1,233.6" fill="#53ff6b"/>
<polygon points="438.6,232.1 443.8,229.0 438.6,228.4 433.5,231.4" fill="#57ff57"/>
<polygon points="449.0,229.7 454.2,226.5 449.0,226.0 443.8,229.0" fill="#78ff5a"/>
<polygon points="459.4,227.1 464.6,223.9 459.4,223.4 454.2,226.5" fill="#9eff5d"/>
<polygon points="469.8,224.4 475.0,221.1 469.8,220.7 464.6,223.9" fill="#c5ff60"/>
<polygon points="480.3,221.5 485.5,218.1 480.2,217.8 475.0,221.1" fill="#efff64"/>
<polygon points="490.8,218.4 496.0,215.0 490.7,214.8 485.5,218.1" fill="#ffe767"/>
<polygon points="501.4,215.3 506.6,211.8 501.3,211.7 496.0,215.0" fill="#ffc16a"/>
<polygon points="301.7,252.9 306.7,250.7 301.7,249.0 296.7,251.1" fill="#2d73ff"/>
<polygon points="311.6,252.4 316.7,250.1 311.7,248.5 306.7,250.7" fill="#3083ff"/>
<polygon points="321.6,251.7 326.7,249.4 321.7,247.8 316.7,250.1" fill="#3494ff"/>
<polygon points="331.7,250.9 336.7,248.5 331.7,247.0 326.7,249.4" fill="#37a5ff"/>
<polygon points="341.7,250.0 346.8,247.5 341.7,246.1 336.7,248.5" fill="#3ab6ff"/>
<polygon points="351.8,248.9 356.9,246.4 351.8,245.0 346.8,247.5" fill="#3dc7ff"/>
<polygon points="361.9,247.7 367.0,245.1 361.9,243.8 356.9,246.4" fill="#41d9ff"/>
<polygon points="372.0,246.4 377.1,243.7 372.0,242.5 367.0,245.1" fill="#44eaff"/>
<polygon points="382.2,244.9 387.3,242.1 382.2,241.0 377.1,243.7" fill="#47fcff"/>
<polygon points="392.4,243.2 397.5,240.4 392.4,239.4 387.3,242.1" fill="#4affe5"/>
<polygon points="402.6,241.4 407.7,238.5 402.6,237.6 397.5,240.4" fill="#4effc5"/>
<polygon points="412.9,239.5 418.0,236.5 412.9,235.7 407.7,238.5" fill="#51ffa6"/>
<polygon points="423.2,237.4 428.3,234.4 423.1,233.6 418.0,236.5" fill="#54ff88"/>
<polygon points="433.5,235.2 438.6,232.1 433.5,231.4 428.3,234.4" fill="#57ff6c"/>
<polygon points="443.8,232.8 449.0,229.7 443.8,229.0 438.6,232.1" fill="#5dff5b"/>
<polygon points="454.2,230.3 459.4,227.1 454.2,226.5 449.0,229.7" fill="#7fff5e"/>
<polygon points="464.6,227.6 469.8,224.4 464.6,223.9 459.4,227.1" fill="#a5ff61"/>
<polygon points="475.1,224.8 480.3,221.5 475.0,221.1 469.8,224.4" fill="#cdff64"/>
<polygon points="485.6,221.9 490.8,218.4 485.5,218.1 480.3,221.5" fill="#f6ff68"/>
<polygon points="496.1,218.7 501.4,215.3 496.0,215.0 490.8,218.4" fill="#ffe16b"/>
<polygon points="306.6,254.6 311.6,252.4 306.7,250.7 301.7,252.9" fill="#3166ff"/>
<polygon points="316.6,254.1 321.6,251.7 316.7,250.1 311.6,252.4" fill="#347aff"/>
<polygon points="326.6,253.3 331.7,250.9 326.7,249.4 321.6,251.7" fill="#388cff"/>
<polygon points="336.7,252.5 341.7,250.0 336.7,248.5 331.7,250.9" fill="#3b9fff"/>
<polygon points="346.7,251.5 351.8,248.9 346.8,247.5 341.7,250.0" fill="#3eb2ff"/>
<polygon points="356.8,250.3 361.9,247.7 356.9,246.4 351.8,248.9" fill="#41c4ff"/>
<polygon points="367.0,249.1 372.0,246.4 367.0,245.1 361.9,247.7" fill="#45d6ff"/>
<polygon points="377.1,247.6 382.2,244.9 377.1,243.7 372.0,246.4" fill="#48e8ff"/>
<polygon points="387.3,246.1 392.4,243.2 387.3,242.1 382.2,244.9" fill="#4bfaff"/>
<polygon points="397.5,244.3 402.6,241.4 397.5,240.4 392.4,243.2" fill="#4effe7"/>
<polygon points="407.7,242.5 412.9,239.5 407.7,238.5 402.6,241.4" fill="#52ffc7"/>
<polygon points="418.0,240.5 423.2,237.4 418.0,236.5 412.9,239.5" fill="#55ffa7"/>
<polygon points="428.3,238.3 433.5,235.2 428.3,234.4 423.2,237.4" fill="#58ff89"/>
<polygon points="438.7,236.0 443.8,232.8 438.6,232.1 433.5,235.2" fill="#5bff6e"/>
<polygon points="449.0,233.6 454.2,230.3 449.0,229.7 443.8,232.8" fill="#64ff5f"/>
<polygon points="459.4,231.0 464.6,227.6 459.4,227.1 454.2,230.3" fill="#86ff62"/>
<polygon points="469.9,228.2 475.1,224.8 469.8,224.4 464.6,227.6" fill="#acff65"/>
<polygon points="480.4,225.3 485.6,221.9 480.3,221.5 475.1,224.8" fill="#d4ff68"/>
<polygon points="490.9,222.2 496.1,218.7 490.8,218.4 485.6,221.9" fill="#fdff6c"/>
<polygon points="311.6,256.4 316.6,254.1 311.6,252.4 306.6,254.6" fill="#3558ff"/>
<polygon points="321.6,255.8 326.6,253.3 321.6,251.7 316.6,254.1" fill="#3870ff"/>
<polygon points="331.6,255.0 336.7,252.5 331.7,250.9 326.6,253.3" fill="#3c85ff"/>
<polygon points="341.7,254.1 346.7,251.5 341.7,250.0 336.7,252.5" fill="#3f9aff"/>
<polygon points="351.8,253.0 356.8,250.3 351.8,248.9 346.7,251.5" fill="#42adff"/>
<polygon points="361.9,251.8 367.0,249.1 361.9,247.7 356.8,250.3" fill="#45c1ff"/>
<polygon points="372.0,250.4 377.1,247.6 372.0,246.4 367.0,249.1" fill="#49d4ff"/>
<polygon points="382.2,248.9 387.3,246.1 382.2,244.9 377.1,247.6" fill="#4ce7ff"/>
<polygon points="392.4,247.3 397.5,244.3 392.4,243.2 387.3,246.1" fill="#4ff9ff"/>
<polygon points="402.6,245.5 407.7,242.5 402.6,241.4 397.5,244.3" fill="#52ffea"/>
<polygon points="412.9,243.5 418.0,240.5 412.9,239.5 407.7,242.5" fill="#56ffc9"/>
<polygon points="423.2,241.4 428.3,238.3 423.2,237.4 418.0,240.5" fill="#59ffa9"/>
<polygon points="433.5,239.2 438.7,236.0 433.5,235.2 428.3,238.3" fill="#5cff8b"/>
<polygon points="443.9,236.8 449.0,233.6 443.8,232.8 438.7,236.0" fill="#5fff70"/>
<polygon points="454.3,234.3 459.4,231.0 454.2,230.3 449.0,233.6" fill="#6aff63"/>
<polygon points="464.7,231.6 469.9,228.2 464.6,227.6 459.4,231.0" fill="#8dff66"/>
<polygon points="475.1,228.8 480.4,225.3 475.1,224.8 469.9,228.2" fill="#b3ff69"/>
<polygon points="485.6,225.8 490.9,222.2 485.6,221.9 480.4,225.3" fill="#daff6c"/>
<polygon points="316.6,258.2 321.6,255.8 316.6,254.1 311.6,256.4" fill="#3943ff"/>
<polygon points="326.6,257.5 331.6,255.0 326.6,253.3 321.6,255.8" fill="#3c64ff"/>
<polygon points="336.7,256.6 341.7,254.1 336.7,252.5 331.6,255.0" fill="#407dff"/>
<polygon points="346.7,255.6 351.8,253.0 346.7,251.5 341.7,254.1" fill="#4394ff"/>
<polygon points="356.8,254.5 361.9,251.8 356.8,250.3 351.8,253.0" fill="#46a9ff"/>
<polygon points="366.9,253.2 372.0,250.4 367.0,249.1 361.9,251.8" fill="#49beff"/>
<polygon points="377.1,251.8 382.2,248.9 377.1,247.6 372.0,250.4" fill="#4dd2ff"/>
<polygon points="387.3,250.2 392.4,247.3 387.3,246.1 382.2,248.9" fill="#50e5ff"/>
<polygon points="397.5,248.5 402.6,245.5 397.5,244.3 392.4,247.3" fill="#53f7ff"/>
<polygon points="407.7,246.6 412.9,243.5 407.7,242.5 402.6,245.5" fill="#56ffec"/>
<polygon points="418.0,244.6 423.2,241.4 418.0,240.5 412.9,243.5" fill="#59ffcb"/>
<polygon points="428.3,242.4 433.5,239.2 428.3,238.3 423.2,241.4" fill="#5dffaa"/>
<polygon points="438.7,240.1 443.9,236.8 438.7,236.0 433.5,239.2" fill="#60ff8c"/>
<polygon points="449.1,237.6 454.3,234.3 449.0,233.6 443.9,236.8" fill="#63ff71"/>
<polygon points="459.5,235.0 464.7,231.6 459.4,231.0 454.3,234.3" fill="#70ff66"/>
<polygon points="469.9,232.2 475.1,228.8 469.9,228.2 464.7,231.6" fill="#93ff6a"/>
<polygon points="480.4,229.3 485.6,225.8 480.4,225.3 475.1,228.8" fill="#b9ff6d"/>
<polygon points="321.6,260.0 326.6,257.5 321.6,255.8 316.6,258.2" fill="#3d3dff"/>
<polygon points="331.6,259.2 336.7,256.6 331.6,255.0 326.6,257.5" fill="#4056ff"/>
<polygon points="341.7,258.3 346.7,255.6 341.7,254.1 336.7,256.6" fill="#4375ff"/>
<polygon points="351.8,257.2 356.8,254.5 351.8,253.0 346.7,255.6" fill="#478eff"/>
<polygon points="361.9,256.0 366.9,253.2 361.9,251.8 356.8,254.5" fill="#4aa5ff"/>
<polygon points="372.0,254.6 377.1,251.8 372.0,250.4 366.9,253.2" fill="#4dbbff"/>
<polygon points="382.2,253.1 387.3,250.2 382.2,248.9 377.1,251.8" fill="#50cfff"/>
<polygon points="392.4,251.5 397.5,248.5 392.4,247.3 387.3,250.2" fill="#54e3ff"/>
<polygon points="402.6,249.7 407.7,246.6 402.6,245.5 397.5,248.5" fill="#57f6ff"/>
<polygon points="412.9,247.7 418.0,244.6 412.9,243.5 407.7,246.6" fill="#5affee"/>
<polygon points="423.2,245.6 428.3,242.4 423.2,241.4 418.0,244.6" fill="#5dffcc"/>
<polygon points="433.5,243.4 438.7,240.1 433.5,239.2 428.3,242.4" fill="#61ffac"/>
<polygon points="443.9,241.0 449.1,237.6 443.9,236.8 438.7,240.1" fill="#64ff8e"/>
<polygon points="454.3,238.4 459.5,235.0 454.3,234.3 449.1,237.6" fill="#67ff73"/>
<polygon points="464.7,235.7 469.9,232.2 464.7,231.6 459.5,235.0" fill="#76ff6a"/>
<polygon points="475.2,232.9 480.4,229.3 475.1,228.8 469.9,232.2" fill="#9aff6e"/>
<polygon points="326.6,261.8 331.6,259.2 326.6,257.5 321.6,260.0" fill="#4141ff"/>
<polygon points="336.6,261.0 341.7,258.3 336.7,256.6 331.6,259.2" fill="#4444ff"/>
<polygon points="346.7,260.0 351.8,257.2 346.7,255.6 341.7,258.3" fill="#476cff"/>
<polygon points="356.8,258.8 361.9,256.0 356.8,254.5 351.8,257.2" fill="#4b88ff"/>
<polygon points="366.9,257.5 372.0,254.6 366.9,253.2 361.9,256.0" fill="#4ea1ff"/>
<polygon points="377.1,256.1 382.2,253.1 377.1,251.8 372.0,254.6" fill="#51b8ff"/>
<polygon points="387.3,254.5 392.4,251.5 387.3,250.2 382.2,253.1" fill="#54cdff"/>
<polygon points="397.5,252.8 402.6,249.7 397.5,248.5 392.4,251.5" fill="#58e1ff"/>
<polygon points="407.7,250.9 412.9,247.7 407.7,246.6 402.6,249.7" fill="#5bf5ff"/>
<polygon points="418.0,248.8 423.2,245.6 418.0,244.6 412.9,247.7" fill="#5efff0"/>
<polygon points="428.3,246.7 433.5,243.4 428.3,242.4 423.2,245.6" fill="#61ffce"/>
<polygon points="438.7,244.3 443.9,241.0 438.7,240.1 433.5,243.4" fill="#65ffae"/>
<polygon points="449.1,241.9 454.3,238.4 449.1,237.6 443.9,241.0" fill="#68ff8f"/>
<polygon points="459.5,239.2 464.7,235.7 459.5,235.0 454.3,238.4" fill="#6bff75"/>
<polygon points="469.9,236.4 475.2,232.9 469.9,232.2 464.7,235.7" fill="#7dff6e"/>
<polygon points="331.6,263.7 336.6,261.0 331.6,259.2 326.6,261.8" fill="#4545ff"/>
<polygon points="341.7,262.7 346.7,260.0 341.7,258.3 336.6,261.0" fill="#4848ff"/>
<polygon points="351.8,261.6 356.8,258.8 351.8,257.2 346.7,260.0" fill="#4b60ff"/>
<polygon points="361.9,260.4 366.9,257.5 361.9,256.0 356.8,258.8" fill="#4f82ff"/>
<polygon points="372.0,259.0 377.1,256.1 372.0,254.6 366.9,257.5" fill="#529dff"/>
<polygon points="382.2,257.5 387.3,254.5 382.2,253.1 377.1,256.1" fill="#55b5ff"/>
<polygon points="392.4,255.9 397.5,252.8 392.4,251.5 387.3,254.5" fill="#58cbff"/>
<polygon points="402.6,254.0 407.7,250.9 402.6,249.7 397.5,252.8" fill="#5ce0ff"/>
<polygon points="412.9,252.1 418.0,248.8 412.9,247.7 407.7,250.9" fill="#5ff3ff"/>
<polygon points="423.2,250.0 428.3,246.7 423.2,245.6 418.0,248.8" fill="#62fff1"/>
<polygon points="433.5,247.7 438.7,244.3 433.5,243.4 428.3,246.7" fill="#65ffd0"/>
<polygon points="443.9,245.3 449.1,241.9 443.9,241.0 438.7,244.3" fill="#69ffaf"/>
<polygon points="454.3,242.7 459.5,239.2 454.3,238.4 449.1,241.9" fill="#6cff91"/>
<polygon points="464.7,240.0 469.9,236.4 464.7,235.7 459.5,239.2" fill="#6fff78"/>
<polygon points="336.6,265.5 341.7,262.7 336.6,261.0 331.6,263.7" fill="#4949ff"/>
<polygon points="346.7,264.5 351.8,261.6 346.7,260.0 341.7,262.7" fill="#4c4cff"/>
<polygon points="356.8,263.3 361.9,260.4 356.8,258.8 351.8,261.6" fill="#4f4fff"/>
<polygon points="366.9,262.0 372.0,259.0 366.9,257.5 361.9,260.4" fill="#537cff"/>
<polygon points="377.1,260.6 382.2,257.5 377.1,256.1 372.0,259.0" fill="#5699ff"/>
<polygon points="387.3,259.0 392.4,255.9 387.3,254.5 382.2,257.5" fill="#59b2ff"/>
<polygon points="397.5,257.2 402.6,254.0 397.5,252.8 392.4,255.9" fill="#5cc9ff"/>
<polygon points="407.7,255.3 412.9,252.1 407.7,250.9 402.6,254.0" fill="#60deff"/>
<polygon points="418.0,253.3 423.2,250.0 418.0,248.8 412.9,252.1" fill="#63f2ff"/>
<polygon points="428.3,251.1 433.5,247.7 428.3,246.7 423.2,250.0" fill="#66fff3"/>
<polygon points="438.7,248.8 443.9,245.3 438.7,244.3 433.5,247.7" fill="#69ffd1"/>
<polygon points="449.1,246.3 454.3,242.7 449.1,241.9 443.9,245.3" fill="#6cffb1"/>
<polygon points="459.5,243.6 464.7,240.0 459.5,239.2 454.3,242.7" fill="#70ff93"/>
<polygon points="341.7,267.3 346.7,264.5 341.7,262.7 336.6,265.5" fill="#4d4dff"/>
<polygon points="351.8,266.2 356.8,263.3 351.8,261.6 346.7,264.5" fill="#5050ff"/>
<polygon points="361.9,265.0 366.9,262.0 361.9,260.4 356.8,263.3" fill="#5353ff"/>
<polygon points="372.0,263.6 377.1,260.6 372.0,259.0 366.9,262.0" fill="#5674ff"/>
<polygon points="382.2,262.1 387.3,259.0 382.2,257.5 377.1,260.6" fill="#5a95ff"/>
<polygon points="392.4,260.4 397.5,257.2 392.4,255.9 387.3,259.0" fill="#5db0ff"/>
<polygon points="402.6,258.6 407.7,255.3 402.6,254.0 397.5,257.2" fill="#60c7ff"/>
<polygon points="412.9,256.6 418.0,253.3 412.9,252.1 407.7,255.3" fill="#63ddff"/>
<polygon points="423.2,254.5 428.3,251.1 423.2,250.0 418.0,253.3" fill="#67f1ff"/>
<polygon points="433.5,252.3 438.7,248.8 433.5,247.7 428.3,251.1" fill="#6afff5"/>
<polygon points="443.9,249.8 449.1,246.3 443.9,245.3 438.7,248.8" fill="#6dffd3"/>
<polygon points="454.3,247.3 459.5,243.6 454.3,242.7 449.1,246.3" fill="#70ffb3"/>
<polygon points="346.7,269.2 351.8,266.2 346.7,264.5 341.7,267.3" fill="#5151ff"/>
<polygon points="356.8,268.0 361.9,265.0 356.8,263.3 351.8,266.2" fill="#5454ff"/>
<polygon points="366.9,266.7 372.0,263.6 366.9,262.0 361.9,265.0" fill="#5757ff"/>
<polygon points="377.1,265.3 382.2,262.1 377.1,260.6 372.0,263.6" fill="#5a6bff"/>
<polygon points="387.3,263.7 392.4,260.4 387.3,259.0 382.2,262.1" fill="#5e91ff"/>
<polygon points="397.5,261.9 402.6,258.6 397.5,257.2 392.4,260.4" fill="#61adff"/>
<polygon points="407.7,260.0 412.9,256.6 407.7,255.3 402.6,258.6" fill="#64c5ff"/>
<polygon points="418.0,258.0 423.2,254.5 418.0,253.3 412.9,256.6" fill="#67dcff"/>
<polygon points="428.3,255.8 433.5,252.3 428.3,251.1 423.2,254.5" fill="#6bf0ff"/>
<polygon points="438.7,253.4 443.9,249.8 438.7,248.8 433.5,252.3" fill="#6efff7"/>
<polygon points="449.1,250.9 454.3,247.3 449.1,246.3 443.9,249.8" fill="#71ffd5"/>
<polygon points="351.8,271.0 356.8,268.0 351.8,266.2 346.7,269.2" fill="#5555ff"/>
<polygon points="361.9,269.8 366.9,266.7 361.9,265.0 356.8,268.0" fill="#5858ff"/>
<polygon points="372.0,268.4 377.1,265.3 372.0,263.6 366.9,266.7" fill="#5b5bff"/>
<polygon points="382.2,266.9 387.3,263.7 382.2,262.1 377.1,265.3" fill="#5e5eff"/>
<polygon points="392.4,265.2 397.5,261.9 392.4,260.4 387.3,263.7" fill="#628dff"/>
<polygon points="402.6,263.4 407.7,260.0 402.6,258.6 397.5,261.9" fill="#65abff"/>
<polygon points="412.9,261.4 418.0,258.0 412.9,256.6 407.7,260.0" fill="#68c4ff"/>
<polygon points="423.2,259.3 428.3,255.8 423.2,254.5 418.0,258.0" fill="#6bdaff"/>
<polygon points="433.5,257.0 438.7,253.4 433.5,252.3 428.3,255.8" fill="#6fefff"/>
<polygon points="443.9,254.5 449.1,250.9 443.9,249.8 438.7,253.4" fill="#72fff8"/>
<polygon points="356.8,272.9 361.9,269.8 356.8,268.0 351.8,271.0" fill="#5959ff"/>
<polygon points="367.0,271.6 372.0,268.4 366.9,266.7 361.9,269.8" fill="#5c5cff"/>
<polygon points="377.1,270.1 382.2,266.9 377.1,265.3 372.0,268.4" fill="#5f5fff"/>
<polygon points="387.3,268.5 392.4,265.2 387.3,263.7 382.2,266.9" fill="#6262ff"/>
<polygon points="397.5,266.8 402.6,263.4 397.5,261.9 392.4,265.2" fill="#6688ff"/>
<polygon points="407.7,264.8 412.9,261.4 407.7,260.0 402.6,263.4" fill="#69a8ff"/>
<polygon points="418.0,262.8 423.2,259.3 418.0,258.0 412.9,261.4" fill="#6cc2ff"/>
<polygon points="428.3,260.6 433.5,257.0 428.3,255.8 423.2,259.3" fill="#6fd9ff"/>
<polygon points="438.7,258.2 443.9,254.5 438.7,253.4 433.5,257.0" fill="#73eeff"/>
<polygon points="361.9,274.8 367.0,271.6 361.9,269.8 356.8,272.9" fill="#5c5cff"/>
<polygon points="372.0,273.4 377.1,270.1 372.0,268.4 367.0,271.6" fill="#6060ff"/>
<polygon points="382.2,271.8 387.3,268.5 382.2,266.9 377.1,270.1" fill="#6363ff"/>
<polygon points="392.4,270.2 397.5,266.8 392.4,265.2 387.3,268.5" fill="#6666ff"/>
<polygon points="402.6,268.3 407.7,264.8 402.6,263.4 397.5,266.8" fill="#6983ff"/>
<polygon points="412.9,266.3 418.0,262.8 412.9,261.4 407.7,264.8" fill="#6da6ff"/>
<polygon points="423.2,264.2 428.3,260.6 423.2,259.3 418.0,262.8" fill="#70c1ff"/>
<polygon points="433.5,261.9 438.7,258.2 433.5,257.0 428.3,260.6" fill="#73d8ff"/>
<polygon points="367.0,276.6 372.0,273.4 367.0,271.6 361.9,274.8" fill="#6060ff"/>
<polygon points="377.1,275.2 382.2,271.8 377.1,270.1 372.0,273.4" fill="#6464ff"/>
<polygon points="387.3,273.6 392.4,270.2 387.3,268.5 382.2,271.8" fill="#6767ff"/>
<polygon points="397.5,271.8 402.6,268.3 397.5,266.8 392.4,270.2" fill="#6a6aff"/>
<polygon points="407.7,269.9 412.9,266.3 407.7,264.8 402.6,268.3" fill="#6d7cff"/>
<polygon points="418.0,267.8 423.2,264.2 418.0,262.8 412.9,266.3" fill="#71a4ff"/>
<polygon points="428.3,265.6 433.5,261.9 428.3,260.6 423.2,264.2" fill="#74c0ff"/>
<polygon points="372.1,278.5 377.1,275.2 372.0,273.4 367.0,276.6" fill="#6464ff"/>
<polygon points="382.2,277.0 387.3,273.6 382.2,271.8 377.1,275.2" fill="#6868ff"/>
<polygon points="392.4,275.3 397.5,271.8 392.4,270.2 387.3,273.6" fill="#6b6bff"/>
<polygon points="402.6,273.4 407.7,269.9 402.6,268.3 397.5,271.8" fill="#6e6eff"/>
<polygon points="412.9,271.5 418.0,267.8 412.9,266.3 407.7,269.9" fill="#7171ff"/>
<polygon points="423.1,269.3 428.3,265.6 423.2,264.2 418.0,267.8" fill="#75a1ff"/>
<polygon points="377.1,280.4 382.2,277.0 377.1,275.2 372.1,278.5" fill="#6868ff"/>
<polygon points="387.3,278.8 392.4,275.3 387.3,273.6 382.2,277.0" fill="#6c6cff"/>
<polygon points="397.5,277.0 402.6,273.4 397.5,271.8 392.4,275.3" fill="#6f6fff"/>
<polygon points="407.7,275.1 412.9,271.5 407.7,269.9 402.6,273.4" fill="#7272ff"/>
<polygon points="418.0,273.0 423.1,269.3 418.0,267.8 412.9,271.5" fill="#7575ff"/>
<polygon points="382.2,282.3 387.3,278.8 382.2,277.0 377.1,280.4" fill="#6c6cff"/>
<polygon points="392.4,280.6 397.5,277.0 392.4,275.3 387.3,278.8" fill="#7070ff"/>
<polygon points="402.6,278.8 407.7,275.1 402.6,273.4 397.5,277.0" fill="#7373ff"/>
<polygon points="412.8,276.8 418.0,273.0 412.9,271.5 407.7,275.1" fill="#7676ff"/>
<polygon points="387.3,284.2 392.4,280.6 387.3,278.8 382.2,282.3" fill="#7070ff"/>
<polygon points="397.5,282.4 402.6,278.8 397.5,277.0 392.4,280.6" fill="#7373ff"/>
<polygon points="407.7,280.5 412.8,276.8 407.7,275.1 402.6,278.8" fill="#7777ff"/>
<polygon points="392.4,286.1 397.5,282.4 392.4,280.6 387.3,284.2" fill="#7474ff"/>
<polygon points="402.6,284.3 407.7,280.5 402.6,278.8 397.5,282.4" fill="#7777ff"/>
<polygon points="397.5,288.1 402.6,284.3 397.5,282.4 392.4,286.1" fill="#7878ff"/>
</g>
<ellipse cx="323.4" cy="243.2" rx="1.8" ry="1.4" fill="#a80000" stroke="#300" stroke-width="0.6"/>
<ellipse cx="360.2" cy="240.2" rx="1.8" ry="1.4" fill="#a80000" stroke="#300" stroke-width="0.6"/>
<ellipse cx="511.2" cy="205.6" rx="2" ry="1.7" fill="#a00000" stroke="#200" stroke-width="0.8"/>
<ellipse cx="287.8" cy="251.3" rx="2.1" ry="1.6" fill="#fff0f0" stroke="#544" stroke-width="0.7"/>
<text x="275.3" y="203.3" font-size="8.6" font-weight="700" fill="#111" text-anchor="middle">16</text>
<text x="275.3" y="216.0" font-size="8.6" font-weight="700" fill="#111" text-anchor="middle">15</text>
<text x="275.3" y="230.1" font-size="8.6" font-weight="700" fill="#111" text-anchor="middle">14</text>
<text x="275.3" y="242.4" font-size="8.6" font-weight="700" fill="#111" text-anchor="middle">13</text>
<text x="275.3" y="250.6" font-size="8.6" font-weight="700" fill="#111" text-anchor="middle">12</text>
<text x="275.3" y="265.8" font-size="8.6" font-weight="700" fill="#111" text-anchor="middle">11</text>
<text transform="translate(264.2,235.2) rotate(-90)" font-size="8.1" font-weight="700" fill="#111" text-anchor="middle">Yarn Unevenness (%)</text>
<text x="282.6" y="291.9" font-size="8.6" font-weight="700" fill="#111" text-anchor="middle">80</text>
<text x="302.6" y="298.4" font-size="8.6" font-weight="700" fill="#111" text-anchor="middle">74</text>
<text x="325.9" y="306.3" font-size="8.6" font-weight="700" fill="#111" text-anchor="middle">68</text>
<text x="346.5" y="310.1" font-size="8.6" font-weight="700" fill="#111" text-anchor="middle">62</text>
<text x="368.5" y="316.6" font-size="8.6" font-weight="700" fill="#111" text-anchor="middle">56</text>
<text x="389.0" y="323.4" font-size="8.6" font-weight="700" fill="#111" text-anchor="middle">50</text>
<text x="404.7" y="323.4" font-size="8.6" font-weight="700" fill="#111" text-anchor="middle">20</text>
<text x="429.7" y="316.1" font-size="8.6" font-weight="700" fill="#111" text-anchor="middle">26</text>
<text x="448.8" y="310.1" font-size="8.6" font-weight="700" fill="#111" text-anchor="middle">32</text>
<text x="470.3" y="305.7" font-size="8.6" font-weight="700" fill="#111" text-anchor="middle">38</text>
<text x="493.0" y="298.4" font-size="8.6" font-weight="700" fill="#111" text-anchor="middle">44</text>
<text x="513.0" y="291.6" font-size="8.6" font-weight="700" fill="#111" text-anchor="middle">50</text>
<text x="263.5" y="315.3" font-size="8.65" font-weight="700" fill="#111" text-anchor="start">B:Cotton fiber (%)</text>
<text x="455.3" y="317.4" font-size="8.8" font-weight="700" fill="#111" text-anchor="start">A: Recycled fiber (%)</text>
</svg></body></html>
